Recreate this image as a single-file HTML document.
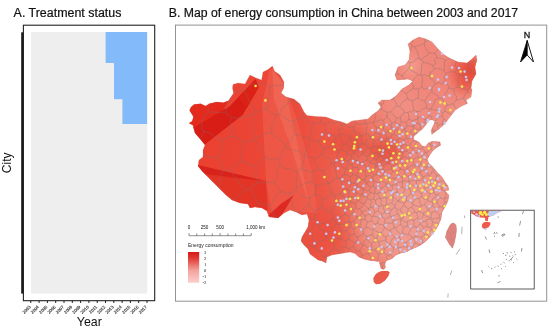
<!DOCTYPE html>
<html><head><meta charset="utf-8"><title>Figure</title>
<style>
html,body{margin:0;padding:0;background:#fff;}
body{width:550px;height:330px;overflow:hidden;}
svg{display:block;}
text{font-family:"Liberation Sans",Arial,sans-serif;fill:#111;}
.ser{font-family:"Liberation Serif","Times New Roman",serif;}
</style></head><body>
<svg width="550" height="330" viewBox="0 0 550 330">
<defs>
<clipPath id="cn"><path d="M190.9,107.2 L194.0,104.6 L200.5,103.7 L205.5,106.0 L210.0,103.4 L217.0,102.0 L223.4,102.7 L228.5,100.8 L231.0,97.0 L233.5,93.2 L232.5,88.0 L233.0,84.4 L238.0,83.0 L245.0,84.0 L250.0,75.0 L256.0,78.0 L261.6,80.0 L263.0,72.0 L268.0,69.6 L272.4,66.0 L274.4,71.0 L280.0,75.0 L284.0,82.0 L283.6,88.0 L281.0,93.0 L286.0,97.0 L294.0,99.0 L300.0,104.0 L304.0,112.0 L307.0,115.6 L316.0,116.4 L326.0,117.0 L334.0,120.0 L342.0,122.0 L347.0,124.0 L352.0,121.0 L360.0,120.0 L368.0,119.0 L372.0,115.0 L378.0,111.0 L381.0,107.0 L378.0,103.0 L382.0,100.0 L390.0,100.0 L396.0,96.0 L402.0,89.0 L409.0,85.0 L413.0,81.0 L408.0,79.0 L397.0,80.0 L395.0,75.0 L398.0,67.0 L405.0,65.0 L409.0,60.0 L410.0,51.0 L408.0,44.0 L413.0,40.0 L419.0,37.0 L426.0,39.0 L432.0,42.0 L438.0,49.0 L443.0,54.0 L449.0,58.0 L458.0,62.0 L467.0,63.0 L472.0,59.0 L476.0,55.0 L477.0,60.0 L475.0,67.0 L476.0,74.0 L472.0,81.0 L471.0,88.0 L472.0,90.0 L471.0,97.0 L466.2,100.0 L467.5,103.5 L462.4,105.7 L456.0,109.5 L452.2,114.0 L448.4,119.0 L444.5,124.2 L439.5,128.6 L434.4,132.5 L431.8,134.4 L431.2,130.0 L433.7,124.8 L435.0,121.0 L431.8,119.7 L428.6,120.4 L426.0,124.8 L423.0,128.6 L419.0,131.8 L414.0,136.3 L413.6,139.5 L419.0,142.0 L422.3,146.0 L425.5,146.5 L428.6,142.7 L431.8,141.5 L436.3,141.5 L440.0,142.0 L440.7,145.3 L437.0,147.2 L433.0,150.4 L430.0,154.8 L427.4,159.3 L428.6,163.0 L432.0,166.0 L437.0,172.0 L442.0,177.0 L445.0,182.0 L448.0,186.0 L449.0,190.0 L445.0,191.0 L449.0,195.0 L448.0,201.0 L445.0,207.0 L442.0,212.0 L441.0,219.0 L438.0,226.0 L434.0,232.0 L430.0,237.0 L425.0,242.0 L419.0,246.0 L412.0,249.0 L406.0,252.0 L401.0,253.0 L396.0,255.0 L391.9,258.8 L386.2,260.7 L384.9,263.9 L385.5,267.7 L383.6,269.6 L381.0,268.4 L379.8,264.5 L379.2,261.4 L371.5,260.7 L365.2,259.5 L358.8,257.0 L355.0,253.5 L350.0,252.0 L344.0,253.0 L338.0,254.0 L332.0,255.0 L327.0,257.0 L326.0,263.0 L322.0,261.0 L318.0,260.0 L314.0,257.0 L310.0,254.0 L308.0,249.0 L304.0,245.0 L301.0,241.0 L302.0,237.0 L305.0,232.0 L308.0,227.0 L309.0,220.0 L307.0,214.0 L302.0,215.0 L296.0,212.0 L290.0,210.0 L284.0,213.0 L278.0,218.0 L269.0,217.0 L267.0,211.0 L262.0,208.0 L255.0,207.0 L250.0,208.0 L248.0,204.0 L240.0,203.0 L232.0,200.0 L226.0,195.0 L220.0,189.0 L211.0,180.0 L207.0,176.0 L202.0,171.0 L198.0,166.0 L199.0,160.0 L203.0,157.0 L203.0,150.0 L205.0,145.0 L201.0,140.0 L195.0,133.0 L194.0,129.5 L192.8,125.0 L189.0,123.3 L192.2,121.2 L193.5,116.7 L191.5,113.5 L189.6,110.4Z"/><path d="M453.9,223.1 L456.0,225.2 L456.4,230.0 L456.0,234.2 L454.6,241.8 L452.5,248.2 L449.4,244.2 L445.5,237.3 L446.9,231.2 L450.0,225.2 L451.7,223.4Z"/><path d="M382.4,270.9 L387.5,270.9 L389.6,272.2 L388.3,276.0 L384.9,280.5 L380.5,283.6 L376.0,284.3 L373.8,281.7 L373.5,277.9 L376.0,274.1 L379.2,271.9Z"/></clipPath>
<clipPath id="cnm"><path d="M190.9,107.2 L194.0,104.6 L200.5,103.7 L205.5,106.0 L210.0,103.4 L217.0,102.0 L223.4,102.7 L228.5,100.8 L231.0,97.0 L233.5,93.2 L232.5,88.0 L233.0,84.4 L238.0,83.0 L245.0,84.0 L250.0,75.0 L256.0,78.0 L261.6,80.0 L263.0,72.0 L268.0,69.6 L272.4,66.0 L274.4,71.0 L280.0,75.0 L284.0,82.0 L283.6,88.0 L281.0,93.0 L286.0,97.0 L294.0,99.0 L300.0,104.0 L304.0,112.0 L307.0,115.6 L316.0,116.4 L326.0,117.0 L334.0,120.0 L342.0,122.0 L347.0,124.0 L352.0,121.0 L360.0,120.0 L368.0,119.0 L372.0,115.0 L378.0,111.0 L381.0,107.0 L378.0,103.0 L382.0,100.0 L390.0,100.0 L396.0,96.0 L402.0,89.0 L409.0,85.0 L413.0,81.0 L408.0,79.0 L397.0,80.0 L395.0,75.0 L398.0,67.0 L405.0,65.0 L409.0,60.0 L410.0,51.0 L408.0,44.0 L413.0,40.0 L419.0,37.0 L426.0,39.0 L432.0,42.0 L438.0,49.0 L443.0,54.0 L449.0,58.0 L458.0,62.0 L467.0,63.0 L472.0,59.0 L476.0,55.0 L477.0,60.0 L475.0,67.0 L476.0,74.0 L472.0,81.0 L471.0,88.0 L472.0,90.0 L471.0,97.0 L466.2,100.0 L467.5,103.5 L462.4,105.7 L456.0,109.5 L452.2,114.0 L448.4,119.0 L444.5,124.2 L439.5,128.6 L434.4,132.5 L431.8,134.4 L431.2,130.0 L433.7,124.8 L435.0,121.0 L431.8,119.7 L428.6,120.4 L426.0,124.8 L423.0,128.6 L419.0,131.8 L414.0,136.3 L413.6,139.5 L419.0,142.0 L422.3,146.0 L425.5,146.5 L428.6,142.7 L431.8,141.5 L436.3,141.5 L440.0,142.0 L440.7,145.3 L437.0,147.2 L433.0,150.4 L430.0,154.8 L427.4,159.3 L428.6,163.0 L432.0,166.0 L437.0,172.0 L442.0,177.0 L445.0,182.0 L448.0,186.0 L449.0,190.0 L445.0,191.0 L449.0,195.0 L448.0,201.0 L445.0,207.0 L442.0,212.0 L441.0,219.0 L438.0,226.0 L434.0,232.0 L430.0,237.0 L425.0,242.0 L419.0,246.0 L412.0,249.0 L406.0,252.0 L401.0,253.0 L396.0,255.0 L391.9,258.8 L386.2,260.7 L384.9,263.9 L385.5,267.7 L383.6,269.6 L381.0,268.4 L379.8,264.5 L379.2,261.4 L371.5,260.7 L365.2,259.5 L358.8,257.0 L355.0,253.5 L350.0,252.0 L344.0,253.0 L338.0,254.0 L332.0,255.0 L327.0,257.0 L326.0,263.0 L322.0,261.0 L318.0,260.0 L314.0,257.0 L310.0,254.0 L308.0,249.0 L304.0,245.0 L301.0,241.0 L302.0,237.0 L305.0,232.0 L308.0,227.0 L309.0,220.0 L307.0,214.0 L302.0,215.0 L296.0,212.0 L290.0,210.0 L284.0,213.0 L278.0,218.0 L269.0,217.0 L267.0,211.0 L262.0,208.0 L255.0,207.0 L250.0,208.0 L248.0,204.0 L240.0,203.0 L232.0,200.0 L226.0,195.0 L220.0,189.0 L211.0,180.0 L207.0,176.0 L202.0,171.0 L198.0,166.0 L199.0,160.0 L203.0,157.0 L203.0,150.0 L205.0,145.0 L201.0,140.0 L195.0,133.0 L194.0,129.5 L192.8,125.0 L189.0,123.3 L192.2,121.2 L193.5,116.7 L191.5,113.5 L189.6,110.4Z"/></clipPath>
<linearGradient id="base" gradientUnits="userSpaceOnUse" x1="190" y1="0" x2="480" y2="0">
<stop offset="0" stop-color="#ea4030"/><stop offset="0.345" stop-color="#ec4838"/><stop offset="0.45" stop-color="#ed5746"/><stop offset="0.535" stop-color="#ee6756"/><stop offset="0.62" stop-color="#ef7665"/><stop offset="0.725" stop-color="#f08375"/><stop offset="0.86" stop-color="#f18d80"/><stop offset="1" stop-color="#f29488"/>
</linearGradient>
<linearGradient id="leg" x1="0" y1="0" x2="0" y2="1"><stop offset="0" stop-color="#d7191c"/><stop offset="0.18" stop-color="#e0352f"/><stop offset="0.6" stop-color="#f3a39d"/><stop offset="1" stop-color="#fccfcf"/></linearGradient>
<filter id="b6" x="-50%" y="-50%" width="200%" height="200%"><feGaussianBlur stdDeviation="6"/></filter>
<filter id="b10" x="-50%" y="-50%" width="200%" height="200%"><feGaussianBlur stdDeviation="10"/></filter>
<filter id="b1" x="-20%" y="-20%" width="140%" height="140%"><feGaussianBlur stdDeviation="0.6"/></filter>
</defs>
<rect width="550" height="330" fill="#fff"/>

<!-- Panel A -->
<text x="13.6" y="16.5" font-size="12.3" textLength="107.8" lengthAdjust="spacingAndGlyphs" stroke="#111" stroke-width="0.2">A. Treatment status</text>
<rect x="31.1" y="32" width="116.2" height="261.6" fill="#eeeeee"/>
<path d="M105.6,32H147.1V124.1H122.4V99.3H114V63H105.6Z" fill="#83bbfa"/>
<rect x="21.2" y="32.3" width="2.4" height="261.3" fill="#1a1a1a"/>
<rect x="23.4" y="25.2" width="131.3" height="275.5" fill="none" stroke="#222" stroke-width="1.1"/>
<g stroke="#222" stroke-width="1"><line x1="30.8" y1="300.7" x2="30.8" y2="303"/><line x1="39.1" y1="300.7" x2="39.1" y2="303"/><line x1="47.4" y1="300.7" x2="47.4" y2="303"/><line x1="55.7" y1="300.7" x2="55.7" y2="303"/><line x1="64.0" y1="300.7" x2="64.0" y2="303"/><line x1="72.3" y1="300.7" x2="72.3" y2="303"/><line x1="80.6" y1="300.7" x2="80.6" y2="303"/><line x1="88.9" y1="300.7" x2="88.9" y2="303"/><line x1="97.2" y1="300.7" x2="97.2" y2="303"/><line x1="105.5" y1="300.7" x2="105.5" y2="303"/><line x1="113.8" y1="300.7" x2="113.8" y2="303"/><line x1="122.1" y1="300.7" x2="122.1" y2="303"/><line x1="130.4" y1="300.7" x2="130.4" y2="303"/><line x1="138.7" y1="300.7" x2="138.7" y2="303"/><line x1="147.0" y1="300.7" x2="147.0" y2="303"/></g>
<g font-size="4.3" style="fill:#333" stroke="#333" stroke-width="0.12"><text transform="translate(31.0,307.3) rotate(-45)" text-anchor="end">2003</text><text transform="translate(39.3,307.3) rotate(-45)" text-anchor="end">2004</text><text transform="translate(47.6,307.3) rotate(-45)" text-anchor="end">2005</text><text transform="translate(55.9,307.3) rotate(-45)" text-anchor="end">2006</text><text transform="translate(64.2,307.3) rotate(-45)" text-anchor="end">2007</text><text transform="translate(72.5,307.3) rotate(-45)" text-anchor="end">2008</text><text transform="translate(80.8,307.3) rotate(-45)" text-anchor="end">2009</text><text transform="translate(89.1,307.3) rotate(-45)" text-anchor="end">2010</text><text transform="translate(97.4,307.3) rotate(-45)" text-anchor="end">2011</text><text transform="translate(105.7,307.3) rotate(-45)" text-anchor="end">2012</text><text transform="translate(114.0,307.3) rotate(-45)" text-anchor="end">2013</text><text transform="translate(122.3,307.3) rotate(-45)" text-anchor="end">2014</text><text transform="translate(130.6,307.3) rotate(-45)" text-anchor="end">2015</text><text transform="translate(138.9,307.3) rotate(-45)" text-anchor="end">2016</text><text transform="translate(147.2,307.3) rotate(-45)" text-anchor="end">2017</text></g>
<text x="89.3" y="326.4" font-size="12.4" text-anchor="middle">Year</text>
<text transform="translate(11.4,162.8) rotate(-90)" font-size="12" text-anchor="middle">City</text>

<!-- Panel B -->
<text x="168.8" y="16.5" font-size="12.3" textLength="349.3" lengthAdjust="spacingAndGlyphs" stroke="#111" stroke-width="0.2">B. Map of energy consumption in China between 2003 and 2017</text>
<rect x="175.5" y="25.1" width="371.2" height="276.1" fill="#fff" stroke="#939393" stroke-width="1"/>

<g clip-path="url(#cn)">
<rect x="180" y="30" width="300" height="260" fill="url(#base)"/>
<!-- blobs -->
<g filter="url(#b10)">
<ellipse cx="430" cy="75" rx="34" ry="34" fill="#f08579" opacity="0.9"/>
<ellipse cx="398" cy="106" rx="24" ry="13" fill="#f29488" opacity="0.85"/>
<ellipse cx="405" cy="222" rx="48" ry="42" fill="#f19b8f" opacity="0.9"/>
<ellipse cx="440" cy="160" rx="16" ry="30" fill="#f1968a" opacity="0.7"/>
<ellipse cx="324" cy="232" rx="24" ry="24" fill="#ea503e" opacity="0.85"/>
</g>
<g filter="url(#b6)">
<ellipse cx="385" cy="151" rx="17" ry="13" fill="#e64433" opacity="0.72"/>
<ellipse cx="347" cy="142" rx="22" ry="15" fill="#ea4f3d" opacity="0.75"/>
<ellipse cx="467" cy="74" rx="15" ry="19" fill="#e84d3c" opacity="0.8"/><ellipse cx="474" cy="70" rx="8" ry="13" fill="#e43f2d" opacity="0.8"/>
<ellipse cx="410" cy="66" rx="9" ry="9" fill="#f5a59a" opacity="0.8"/>
</g>
<!-- facets west -->
<g filter="url(#b1)">
<path d="M180,95 L232,95 L201,148 L180,150Z" fill="#e32b1f"/>
<path d="M193,128 L229.5,106.5 L255.6,79 L258.5,87.6 L242.5,115 L204.7,144.5 L201.8,147.5Z" fill="#d81a12"/>
<path d="M238,98 L255.6,79 L258.5,87.6 L247,108Z" fill="#dc2118"/>
<path d="M196,164.5 L266,181 L196,175Z" fill="#d9231a"/>
<path d="M196,173 L266,181 L268,217 L225,200 L196,178Z" fill="#e13226" opacity="0.85"/>
<path d="M262,104 L270,68 L284,82 L297,120 L313,175 L317,213 L296,212 L284,213 L272,217 L266,181Z" fill="#f06c5a" opacity="0.42"/>
<path d="M272,68 L284,84 L299,150 L309,205 L292,150 L274,100Z" fill="#f27866" opacity="0.4"/>
<path d="M267.5,216 L279.5,219 L293.5,195.5 L282,203Z" fill="#dc2b20"/>
</g>
</g>
<g clip-path="url(#cnm)"><path d="M257.7,203.3L261.6,203.4L265.5,205.4L270.5,205.0M270.5,205.0L272.7,211.8L276.8,219.1L279.6,226.8M451.7,31.7L450.6,32.8L450.7,34.7L450.2,35.2M461.5,58.9L459.1,60.0L458.2,62.1L456.2,62.2M456.2,62.2L454.4,59.9L451.4,59.1L448.5,58.2M450.2,35.2L449.3,42.2L448.1,50.2L448.5,58.2M378.5,79.5L384.7,82.7L391.1,85.5L398.9,89.8M378.5,79.5L385.7,78.6L391.2,75.7L398.1,73.8M398.1,73.8L399.3,74.2L400.8,75.6L402.1,75.5M399.0,89.8L399.7,87.0L403.7,84.4L403.9,79.6M399.0,89.8L399.0,89.8L398.9,89.8L398.9,89.8M402.1,75.5L402.3,76.2L403.8,78.7L403.9,79.6M333.0,38.7L333.2,31.7L332.7,29.1L332.2,22.4M333.0,38.7L334.1,45.0L337.4,55.6L340.3,62.3M395.4,56.4L397.1,61.3L396.3,67.5L398.1,73.8M378.2,79.5L364.2,72.6L354.0,69.1L340.3,62.3M378.2,79.5L378.2,79.5L378.4,79.6L378.5,79.5M410.8,81.1L412.5,83.2L413.1,84.9L413.8,88.4M410.8,81.1L407.9,80.8L405.6,79.0L403.9,79.6M399.0,89.8L401.0,90.8L403.1,91.6L406.2,93.8M406.2,93.8L407.2,92.6L411.6,89.4L413.8,88.4M461.5,58.9L462.6,59.8L465.8,62.4L468.1,64.2M468.1,64.2L469.1,63.9L471.5,62.9L474.8,60.8M480.9,65.6L479.6,62.7L478.0,63.0L474.8,60.8M316.6,210.3L313.7,209.8L310.5,206.9L309.4,204.8M316.6,210.3L314.3,213.1L315.3,217.4L314.5,218.8M309.4,204.8L305.1,207.4L299.7,211.7L294.6,213.6M294.6,213.6L293.5,215.8L294.6,217.3L293.5,218.5M293.5,218.5L301.2,218.9L306.9,218.7L314.5,218.8M270.5,205.0L273.2,201.1L276.1,195.7L280.8,191.9M279.6,226.8L284.4,226.7L285.8,222.8L290.6,222.5M294.6,213.6L294.0,207.8L290.1,198.5L289.9,193.3M290.6,222.5L291.9,221.3L293.4,219.9L293.5,218.5M280.8,191.9L285.3,192.1L286.7,192.7L289.9,193.3M309.4,204.8L308.6,202.7L309.4,199.1L309.1,197.7M309.1,197.7L303.1,196.5L299.0,193.3L295.6,189.7M295.6,189.7L293.6,191.8L291.5,192.5L289.9,193.3M289.2,85.7L281.4,85.0L275.5,85.6L269.0,86.7M289.2,85.7L290.5,91.5L290.4,95.4L289.6,99.2M269.0,86.7L269.7,94.6L267.4,103.3L267.6,109.6M267.6,109.6L270.7,112.6L275.0,114.0L276.4,114.5M276.4,114.5L277.5,114.7L278.0,114.6L279.7,113.9M289.6,99.2L287.6,104.2L282.1,108.2L279.7,113.9M294.1,134.7L299.9,135.6L303.4,137.0L309.1,138.1M294.1,134.7L292.1,138.7L289.2,141.6L284.7,145.6M284.7,147.7L284.7,146.7L284.6,146.0L284.7,145.6M284.7,147.7L290.6,149.2L299.2,151.6L304.2,155.2M304.2,155.2L304.3,155.2L304.3,155.2L304.4,155.1M304.4,155.1L306.2,148.4L309.0,145.9L310.2,139.4M310.2,139.4L309.8,138.7L309.7,138.7L309.1,138.1M276.4,114.5L274.3,121.2L271.9,125.8L271.9,133.0M271.9,133.0L274.6,136.1L281.8,140.9L284.7,145.6M279.7,113.9L284.6,117.7L288.4,120.1L293.1,121.8M293.1,121.8L292.0,125.8L294.4,130.8L294.1,134.7M201.0,122.5L202.1,125.5L201.8,129.7L204.0,131.1M204.0,131.1L201.5,137.1L196.4,144.3L194.4,152.9M218.9,213.7L220.8,201.1L219.3,188.1L220.5,173.9M265.5,83.6L266.0,84.2L268.3,85.9L269.0,86.7M265.5,83.6L259.8,83.1L256.2,84.8L251.9,84.0M251.9,84.0L248.8,86.7L246.4,87.8L244.9,91.3M267.6,109.6L263.7,109.0L259.2,112.0L255.8,111.6M244.9,91.3L247.4,96.4L251.4,105.1L255.8,111.6M434.9,53.2L440.4,46.3L446.2,41.2L450.2,35.2M434.9,53.2L435.2,54.1L436.4,56.3L436.6,57.8M448.5,58.2L448.1,58.8L446.9,59.4L445.3,60.4M436.6,57.8L438.0,57.9L440.9,58.2L445.3,60.4M410.8,81.1L413.0,80.6L416.0,76.4L418.4,74.8M421.3,75.4L421.2,75.1L420.7,75.0L420.7,74.9M421.3,75.4L422.7,78.5L421.7,84.3L422.3,87.5M422.3,87.5L420.9,87.7L419.1,88.8L418.4,89.7M418.4,89.7L417.2,88.5L415.4,89.3L413.8,88.4M418.4,74.8L419.4,74.8L420.3,74.9L420.7,74.9M402.1,75.5L405.7,71.5L408.1,69.4L409.7,67.0M418.4,74.8L416.3,73.0L411.0,70.5L409.7,67.0M378.2,79.5L381.3,84.8L382.7,90.6L386.2,98.3M398.9,89.8L396.9,91.9L396.6,94.6L393.5,99.2M393.5,99.2L390.9,99.6L389.0,97.3L386.2,98.3M340.3,62.3L339.1,66.1L340.1,69.9L340.3,71.2M340.3,71.2L342.0,74.9L342.9,77.1L344.3,80.8M349.3,86.0L347.1,83.3L345.6,82.8L344.3,80.8M349.3,86.0L359.1,92.4L371.4,99.4L381.5,104.2M386.2,98.3L383.8,100.1L383.7,103.5L381.5,104.2M375.0,112.5L378.0,111.3L379.5,109.3L382.0,109.4M375.0,112.5L370.2,110.5L367.0,110.1L364.2,107.1M364.2,107.1L357.8,100.9L352.7,93.9L349.3,86.0M382.0,109.4L381.4,107.6L381.8,105.9L381.5,104.2M406.2,93.8L407.0,95.8L407.6,96.5L407.8,98.8M418.7,98.2L415.5,98.5L414.8,99.8L412.4,101.2M418.7,98.2L418.1,96.7L418.4,93.7L418.4,89.7M407.8,98.8L409.6,100.3L411.7,100.0L412.4,101.2M433.1,65.6L433.0,66.5L433.8,67.4L434.3,68.6M433.1,65.6L435.6,63.7L434.4,59.6L436.6,57.8M445.3,60.4L444.4,62.7L444.3,68.3L444.1,71.2M444.1,71.2L441.3,69.3L436.0,68.3L434.3,68.6M421.3,75.4L425.0,74.6L427.8,76.3L429.6,75.4M433.1,65.6L429.3,63.8L426.0,62.8L423.3,62.3M420.7,74.9L421.7,69.2L421.6,66.0L423.3,62.3M429.6,75.4L430.6,72.0L431.7,72.1L434.3,68.6M418.7,98.2L421.0,100.3L422.8,99.9L424.5,101.5M416.6,111.5L415.5,111.0L414.5,110.6L413.6,110.4M416.6,111.5L420.1,111.3L422.4,109.1L426.5,107.7M412.4,101.2L412.7,105.5L413.9,109.0L413.6,110.4M424.5,101.5L425.4,102.5L426.5,104.7L426.5,107.7M312.5,246.5L313.8,246.6L314.6,246.0L315.1,245.4M312.5,246.5L308.2,245.4L304.1,245.0L301.6,243.9M301.6,243.9L302.4,241.1L302.0,236.6L300.6,231.2M316.2,243.1L312.7,238.8L313.2,236.3L309.6,232.0M316.2,243.1L316.3,243.7L315.6,244.6L315.1,245.4M300.6,231.2L304.1,232.1L305.3,230.7L309.6,232.0M323.2,256.7L321.2,252.0L316.4,250.7L315.1,245.4M323.2,256.7L310.1,273.5L298.8,289.0L284.8,303.1M290.6,222.5L294.8,226.7L297.6,228.6L300.6,231.2M325.9,237.5L325.9,237.4L325.9,237.4L325.9,237.3M325.9,237.5L323.9,240.6L320.4,240.4L316.2,243.1M317.1,223.2L313.7,225.9L312.1,228.6L309.6,232.0M317.1,223.2L317.4,223.4L317.6,223.5L318.0,223.6M318.0,223.6L319.9,228.8L324.9,232.4L325.9,237.3M314.5,218.8L315.8,221.0L316.1,221.0L317.1,223.2M325.9,237.5L327.3,238.1L332.2,242.2L333.2,242.6M323.2,256.7L323.6,256.6L323.9,256.6L324.3,256.7M324.3,256.7L328.0,253.8L331.9,251.0L334.4,247.7M333.2,242.6L334.4,244.2L334.1,245.6L334.4,247.7M296.5,187.8L296.0,182.4L297.3,177.1L296.3,171.6M296.5,187.8L301.1,185.4L306.4,182.7L312.1,182.2M312.1,182.2L312.1,179.6L312.2,176.9L312.1,172.7M312.1,172.7L306.9,170.5L304.1,169.9L300.5,169.0M300.5,169.0L298.7,170.2L296.9,171.6L296.3,171.6M280.8,191.9L278.9,188.7L277.6,185.6L274.2,182.7M295.6,189.7L295.9,189.3L296.2,188.8L296.5,187.8M279.9,164.8L276.8,171.4L277.3,176.3L274.2,182.7M279.9,164.8L285.4,168.4L290.6,169.2L296.3,171.6M309.1,197.7L310.2,197.8L313.8,194.5L315.2,194.4M315.2,194.4L316.0,190.7L315.8,188.4L317.0,185.9M317.0,185.9L316.4,185.4L313.4,184.1L312.1,182.2M315.2,158.1L310.1,156.9L307.3,157.6L304.4,155.1M315.2,158.1L314.5,162.7L318.1,166.7L317.1,169.5M317.1,169.5L315.6,170.5L313.2,170.9L312.1,172.7M304.2,155.2L304.0,159.7L302.9,163.3L300.5,169.0M279.9,164.8L279.6,164.0L278.9,161.2L277.6,159.0M277.6,159.0L281.2,156.2L282.3,151.7L284.7,147.7M204.0,131.1L212.0,134.3L217.2,137.9L223.7,140.3M194.4,152.9L201.2,153.1L210.1,157.4L217.7,157.5M223.7,140.3L221.5,146.6L220.3,152.0L217.7,157.5M220.5,173.9L220.9,173.5L223.2,172.0L224.0,170.0M217.7,157.5L218.5,160.2L221.8,164.4L224.0,170.0M302.5,117.4L303.3,112.3L305.2,111.5L305.5,106.5M302.5,117.4L306.5,117.8L307.7,121.2L312.1,123.3M321.1,120.9L321.4,111.3L325.7,102.4L326.4,91.8M321.1,120.9L319.5,122.9L315.3,123.4L312.1,123.3M326.4,91.8L320.0,98.0L313.4,102.3L305.5,106.5M289.6,99.2L296.2,103.1L301.5,104.1L305.5,106.5M293.1,121.8L296.6,119.3L298.3,119.6L302.5,117.4M309.1,138.1L311.2,134.7L312.2,127.9L312.1,123.3M324.8,124.7L323.6,122.6L321.8,122.0L321.1,120.9M324.8,124.7L329.5,122.3L334.1,123.6L339.6,121.3M340.3,71.2L336.7,79.6L330.5,83.8L326.4,91.8M344.3,80.8L344.1,84.3L345.4,87.6L344.6,89.5M344.6,89.5L344.1,100.8L340.2,110.1L339.6,121.3M324.8,124.7L325.9,127.4L324.8,129.2L325.9,131.5M325.9,131.5L324.3,134.3L321.5,137.0L318.6,140.9M318.6,140.9L314.4,140.9L312.0,139.7L310.2,139.4M333.0,38.7L318.3,53.8L304.8,69.6L289.2,85.7M450.7,197.4L449.1,197.4L446.5,198.3L445.3,197.4M450.7,197.4L450.4,199.8L452.6,201.8L453.2,204.2M453.2,204.2L449.8,205.0L446.3,202.1L444.9,202.1M444.9,202.1L444.2,200.4L444.9,199.5L444.1,198.5M444.1,198.5L444.3,198.1L444.9,197.9L445.3,197.4M461.5,212.1L454.4,210.0L449.8,210.4L443.1,207.6M461.5,212.1L458.9,208.6L456.7,207.9L453.2,204.2M442.6,206.9L442.8,207.2L442.8,207.3L443.1,207.6M442.6,206.9L443.7,204.6L444.8,202.9L444.9,202.1M446.0,192.2L444.2,190.8L442.6,190.4L442.1,189.1M446.0,192.2L446.7,191.1L448.0,191.1L450.1,190.7M446.0,185.3L447.4,185.8L448.6,185.4L449.8,186.0M446.0,185.3L443.8,186.8L442.7,187.6L442.0,188.3M442.0,188.3L442.1,188.4L442.2,188.8L442.1,189.1M449.8,186.0L449.9,186.3L450.9,187.8L451.6,188.3M451.6,188.3L451.1,188.8L450.4,189.9L450.1,190.7M451.9,195.8L452.0,194.4L450.1,191.6L450.1,190.7M451.9,195.8L451.5,196.0L451.3,196.6L450.7,197.4M445.3,197.4L446.1,195.1L445.3,194.0L446.0,192.2M438.5,185.1L438.7,184.3L438.2,183.0L438.1,182.5M438.5,185.1L439.1,186.5L441.2,186.8L442.0,188.3M438.1,182.5L441.4,181.1L442.0,181.2L444.4,179.1M444.4,179.1L444.1,182.1L445.4,183.2L446.0,185.3M437.7,194.8L438.6,196.2L438.8,197.3L440.1,197.5M437.7,194.8L437.4,194.5L436.5,194.5L435.7,194.5M435.7,194.5L435.7,197.7L432.9,198.2L431.7,201.5M440.1,197.5L439.5,198.2L437.3,201.1L437.4,202.5M437.4,202.5L436.1,202.0L434.1,202.9L432.6,202.6M431.7,201.5L432.1,201.8L432.4,202.0L432.6,202.6M444.1,198.5L442.4,198.6L442.1,198.6L440.1,197.5M442.1,189.1L440.0,190.8L439.1,193.4L437.7,194.8M433.2,189.4L433.8,189.1L436.0,187.4L438.5,185.1M433.2,189.4L433.1,190.8L433.8,191.3L433.5,192.5M433.5,192.5L434.7,193.4L434.5,193.4L435.7,194.5M442.6,206.9L442.2,206.9L440.7,206.8L440.3,206.6M440.3,206.6L438.6,205.6L437.6,203.9L437.4,202.5M414.8,22.9L412.8,29.7L413.8,38.3L411.0,44.0M332.2,22.4L331.7,21.5L331.6,20.3L331.5,19.1M451.7,31.7L442.9,34.4L434.8,39.7L425.1,41.3M434.9,53.2L432.1,53.0L430.5,53.1L428.9,52.2M425.1,41.3L424.7,41.9L424.6,42.5L424.4,42.9M428.9,52.2L427.2,50.2L424.6,46.2L424.4,42.9M423.3,62.3L423.1,61.3L421.6,60.6L421.5,59.3M428.9,52.2L427.6,55.4L422.5,57.9L421.5,59.3M418.0,117.6L418.0,117.7L417.9,117.8L417.9,117.9M418.0,117.6L420.5,117.1L423.8,119.6L425.3,119.5M417.9,117.9L417.8,120.7L417.9,122.4L418.7,123.7M425.3,119.5L425.2,120.7L425.5,121.8L424.9,122.6M424.9,122.6L423.7,122.7L421.6,124.2L420.3,124.6M418.7,123.7L419.4,124.2L420.1,124.1L420.3,124.6M416.6,111.5L417.0,113.2L417.0,114.6L418.0,117.6M413.6,110.4L411.1,112.3L409.6,111.0L408.0,112.9M412.7,121.2L411.8,120.1L409.2,119.8L408.8,118.4M412.7,121.2L414.3,119.9L416.9,119.4L417.9,117.9M408.0,112.9L408.5,114.5L408.7,116.7L408.8,118.4M383.2,120.3L384.9,118.8L386.5,117.2L386.7,115.4M383.2,120.3L384.1,122.1L383.5,124.5L384.6,125.5M384.6,125.5L386.1,125.6L389.6,124.7L391.0,125.7M391.0,125.7L391.1,124.8L392.0,124.0L391.9,123.4M391.9,123.4L389.8,120.1L388.6,118.9L386.7,115.4M375.0,112.5L375.3,115.8L375.1,119.4L373.9,122.0M373.9,122.0L375.7,121.8L380.5,119.7L383.2,120.3M382.0,109.4L384.2,111.5L386.1,111.4L387.0,113.0M386.7,115.4L387.2,114.4L386.9,114.2L387.0,113.0M479.2,82.3L477.7,82.8L475.0,83.4L471.3,85.2M479.2,82.3L478.4,79.5L476.4,76.2L475.7,73.4M471.3,85.2L467.4,80.9L466.0,79.6L462.2,75.2M475.7,73.4L472.7,71.6L469.5,72.3L467.4,70.8M467.4,70.8L465.6,73.5L464.5,74.4L462.2,75.2M480.9,65.6L479.4,69.1L477.5,71.6L475.7,73.4M468.1,64.2L468.3,66.8L467.9,68.5L467.4,70.8M456.2,62.2L455.1,65.2L456.9,68.5L455.0,72.2M444.1,71.2L444.7,72.5L445.7,72.9L446.1,73.6M446.1,73.6L448.0,72.4L451.2,71.5L455.0,72.2M462.2,75.2L461.2,75.2L461.0,75.2L459.9,75.4M455.0,72.2L456.3,73.5L458.1,74.3L459.9,75.4M429.6,75.4L430.3,78.9L433.1,79.9L435.3,84.2M446.1,73.6L444.1,77.6L445.2,80.5L443.2,82.2M443.2,82.2L441.5,84.2L438.9,82.4L435.3,84.2M422.3,87.5L424.2,89.3L428.1,87.7L431.7,89.8M435.3,84.2L434.8,85.1L432.5,86.9L431.7,89.8M424.5,101.5L426.9,97.3L428.7,95.1L432.0,91.1M431.7,89.8L431.9,90.3L432.0,90.7L432.0,91.1M324.3,256.7L327.7,258.8L332.4,263.8L337.6,268.1M342.5,280.1L340.0,276.5L340.6,272.5L337.6,268.1M348.4,248.5L349.5,250.7L348.0,253.4L349.0,254.7M348.4,248.5L347.9,247.6L347.2,247.6L345.9,246.9M345.9,246.9L342.1,247.2L341.9,249.6L337.6,250.2M349.0,254.7L345.7,254.4L343.9,253.6L339.2,253.9M337.6,250.2L338.6,251.7L338.5,252.1L339.2,253.9M333.2,242.6L334.2,240.6L336.5,238.6L339.6,238.6M334.4,247.7L335.3,247.8L336.6,249.5L337.6,250.2M339.6,238.6L341.5,239.1L343.6,240.1L345.9,240.6M345.9,240.6L345.7,242.9L346.1,245.9L345.9,246.9M350.6,256.4L349.9,255.5L349.1,255.2L349.0,254.7M350.6,256.4L347.3,263.8L346.5,271.6L342.5,280.1M337.6,268.1L336.8,264.8L337.9,257.6L339.2,253.9M231.0,136.5L235.9,137.1L240.5,140.3L244.1,142.7M231.0,136.5L232.6,131.5L230.1,123.4L231.3,117.6M252.5,115.2L247.0,115.3L238.5,118.4L231.3,117.6M252.5,115.2L251.9,122.1L252.8,130.7L255.0,138.0M244.1,142.7L246.8,140.9L250.2,141.4L253.8,139.7M255.0,138.0L254.4,138.6L254.0,138.9L253.8,139.7M244.9,91.3L239.8,90.2L237.2,92.4L232.5,92.4M255.8,111.6L255.2,113.5L252.8,113.7L252.5,115.2M232.5,92.4L230.3,99.6L227.6,104.9L226.2,111.9M226.2,111.9L226.9,114.7L228.8,115.0L231.3,117.6M271.9,133.0L265.4,133.4L260.6,136.6L255.0,138.0M277.6,159.0L274.0,159.9L271.3,159.8L266.7,157.9M266.7,157.9L261.8,151.4L259.5,145.0L253.8,139.7M345.9,240.6L346.6,239.9L347.2,240.0L348.1,239.6M348.1,239.6L349.5,239.5L352.5,241.0L354.1,243.1M348.4,248.5L349.2,248.6L351.2,247.9L353.3,246.3M353.3,246.3L353.9,245.3L353.8,244.6L354.1,243.1M318.6,140.9L319.5,143.8L321.1,146.6L323.8,148.1M315.2,158.1L317.2,157.6L321.0,154.7L322.7,153.2M322.7,153.2L322.2,151.1L323.2,149.5L323.8,148.1M317.1,169.5L318.4,169.4L320.3,169.6L322.1,170.7M317.0,185.9L321.1,183.9L323.8,184.2L328.2,183.1M322.1,170.7L324.6,176.1L325.5,179.1L328.2,183.1M322.7,153.2L324.4,156.9L329.8,158.3L331.8,163.1M322.1,170.7L326.3,168.4L329.7,165.1L331.8,163.1M204.1,115.2L206.3,115.0L207.1,114.1L208.1,112.4M208.1,112.4L207.6,95.7L206.8,79.2L206.9,64.3M201.0,122.5L203.5,120.2L203.5,116.7L204.1,115.2M223.7,140.3L225.5,139.1L228.8,137.1L231.0,136.5M226.2,111.9L219.4,112.6L213.9,111.9L208.1,112.4M232.5,92.4L224.5,82.6L216.7,74.7L206.9,64.3M425.1,41.3L422.7,36.3L417.8,27.9L414.8,22.9M419.4,253.2L420.3,251.3L418.7,247.4L420.4,244.7M419.4,253.2L415.6,252.4L414.1,250.2L412.0,248.1M412.0,248.1L412.9,246.7L413.3,244.5L415.2,243.4M415.2,243.4L417.2,243.4L418.0,244.5L420.4,244.7M425.2,243.9L424.5,243.5L423.8,243.7L422.5,243.3M420.4,244.7L421.3,244.6L421.8,243.9L422.5,243.3M381.9,263.7L382.6,262.2L385.3,262.9L386.3,261.5M381.9,263.7L379.9,263.6L378.1,262.3L377.4,261.4M386.3,261.5L387.5,259.5L386.1,257.6L387.6,255.6M387.6,255.6L386.1,254.0L384.5,253.6L384.1,252.8M384.1,252.8L382.6,252.9L380.5,253.2L378.7,254.3M378.7,254.3L378.5,255.8L377.8,258.0L377.4,261.4M365.2,261.7L360.5,271.1L359.8,280.1L354.8,289.1M365.2,261.7L366.9,260.7L369.8,261.0L371.2,260.1M367.8,278.1L368.5,273.4L372.9,266.4L374.0,262.1M367.8,278.1L361.5,284.7L358.7,291.5L352.4,298.9M371.2,260.1L372.1,261.0L373.5,261.7L374.0,262.1M382.1,268.5L382.3,267.0L382.3,265.3L381.9,263.7M382.1,268.5L377.2,272.5L372.1,274.7L367.8,278.1M377.4,261.4L375.9,262.0L375.6,261.5L374.0,262.1M408.1,250.5L407.5,251.5L404.1,253.3L403.2,254.8M403.2,254.8L406.2,265.5L408.8,277.2L412.3,287.8M412.3,287.8L417.1,296.5L421.2,303.0L425.9,311.3M412.0,248.1L410.9,248.6L409.6,249.2L408.3,249.0M408.3,249.0L408.1,249.4L408.0,249.8L408.1,250.5M382.1,268.5L396.7,282.2L410.4,297.4L425.9,311.3M386.3,261.5L389.4,264.4L394.3,264.5L398.0,268.0M398.0,268.0L402.4,273.6L408.3,280.8L412.3,287.8M393.4,247.6L395.5,247.3L396.4,247.0L397.6,247.8M393.4,247.6L393.6,249.9L391.2,252.6L390.5,254.4M399.5,253.7L399.7,252.5L398.7,249.7L397.7,247.8M399.5,253.7L399.2,254.6L397.2,256.9L396.0,257.7M397.6,247.8L397.7,247.8L397.7,247.8L397.7,247.8M390.5,254.4L391.5,256.2L393.6,257.5L396.0,257.7M387.6,255.6L388.7,255.3L389.4,254.8L390.5,254.4M389.9,244.0L390.9,244.6L392.2,246.8L393.4,247.6M389.9,244.0L389.9,244.0L389.8,244.0L389.8,244.0M384.1,252.8L383.9,251.3L384.8,249.4L384.2,248.2M384.2,248.2L387.0,247.5L388.5,245.1L389.8,244.0M408.3,249.0L408.0,248.4L407.0,247.7L406.9,247.4M406.9,247.4L405.3,246.6L402.1,247.1L397.7,247.8M403.2,254.8L402.1,253.8L401.3,253.8L399.5,253.7M398.0,268.0L396.9,265.6L398.2,262.7L396.0,257.7M440.3,206.6L438.8,207.3L438.3,208.2L436.3,209.2M432.6,202.6L432.7,203.9L433.1,205.3L432.5,205.8M436.3,209.2L434.5,207.3L434.0,206.7L432.5,205.8M436.3,209.2L436.4,210.1L436.2,211.1L435.7,211.6M435.7,211.6L433.7,211.6L432.2,212.5L431.6,213.8M432.5,205.8L431.5,206.8L430.5,207.5L428.3,209.6M431.6,213.8L430.0,211.5L429.6,211.1L428.3,209.6M461.5,212.1L467.2,215.8L472.8,220.1L480.3,223.7M443.1,207.6L443.2,208.8L442.7,210.9L442.6,213.5M435.7,211.6L436.8,212.4L438.5,213.9L439.9,215.1M442.6,213.5L441.2,213.9L440.4,214.3L439.9,215.1M480.3,223.7L473.5,221.9L466.3,220.1L457.4,220.1M442.6,213.5L447.1,214.9L453.6,218.8L457.4,220.1M412.3,46.2L412.7,46.6L413.8,46.7L414.9,47.0M412.3,46.2L410.5,50.5L406.1,52.1L402.5,57.2M414.9,47.0L417.6,52.2L418.4,55.6L419.4,58.7M419.4,58.7L416.2,58.6L413.5,61.9L409.5,62.8M402.5,57.2L404.4,60.2L408.3,61.3L409.5,62.8M411.0,44.0L411.2,45.1L412.1,45.8L412.3,46.2M424.4,42.9L420.2,45.2L417.1,45.9L414.9,47.0M395.4,56.4L398.2,56.9L400.4,57.8L402.5,57.2M421.5,59.3L420.7,59.2L420.1,58.9L419.4,58.7M409.7,67.0L409.7,65.3L410.1,63.8L409.5,62.8M448.7,88.2L448.1,85.1L445.4,83.3L443.2,82.2M448.7,88.2L446.2,92.9L444.9,94.4L442.3,98.7M432.0,91.1L433.4,93.3L437.9,95.6L438.8,98.3M442.3,98.7L441.5,98.2L440.1,98.4L438.8,98.3M444.4,179.1L444.4,179.1L444.4,179.1L444.4,179.1M449.8,186.0L451.5,184.3L449.7,181.5L451.6,178.9M444.4,179.1L447.9,178.3L449.5,178.8L451.6,178.9M435.5,180.4L437.0,181.6L437.1,181.8L438.1,182.5M435.5,180.4L435.7,179.1L436.2,178.0L436.5,176.3M444.4,179.1L444.4,178.5L443.9,176.9L443.5,176.1M443.5,176.1L442.9,175.9L442.3,175.5L441.2,174.3M436.5,176.3L437.4,175.9L439.1,175.2L441.2,174.3M459.9,75.4L457.3,80.2L459.0,83.6L456.4,87.2M448.7,88.2L451.0,88.0L451.7,89.0L453.6,89.0M453.6,89.0L454.7,88.6L455.2,88.1L456.4,87.2M471.3,85.2L470.3,88.0L468.9,87.8L468.0,90.6M456.4,87.2L459.2,87.6L463.6,88.6L468.0,90.6M468.0,90.6L468.0,91.1L468.3,91.7L468.2,92.1M468.2,92.1L465.7,93.5L464.1,96.9L463.9,98.9M481.4,125.7L476.1,117.2L469.2,108.7L463.9,98.9M453.6,89.0L454.1,93.5L456.5,96.6L456.4,99.9M456.4,99.9L459.9,99.6L462.6,97.9L463.9,98.9M406.2,122.1L405.3,121.8L403.6,122.1L401.9,121.7M406.2,122.1L406.9,124.1L407.0,124.8L407.6,126.0M404.8,129.4L405.4,128.7L406.0,126.5L407.6,126.0M404.8,129.4L403.8,128.0L400.8,125.8L399.8,124.8M399.8,124.8L400.0,123.3L401.3,122.2L401.9,121.7M412.7,121.2L412.1,123.5L413.4,124.6L413.1,126.1M413.1,126.1L410.8,126.7L409.7,125.9L407.6,126.0M408.8,118.4L408.4,119.5L407.8,120.4L406.2,122.1M404.4,112.0L402.7,114.9L401.6,115.1L400.6,117.3M404.4,112.0L402.7,109.1L401.8,109.0L399.8,106.6M390.5,111.9L392.2,113.6L394.7,116.4L396.7,117.8M390.5,111.9L393.1,109.4L395.5,106.9L396.8,106.0M400.6,117.3L399.1,118.0L397.9,117.9L396.7,117.8M396.8,106.0L397.3,106.0L398.5,106.7L399.8,106.6M408.0,112.9L407.0,112.3L406.2,112.8L404.4,112.0M401.9,121.7L400.8,120.7L400.5,118.5L400.6,117.3M407.8,98.8L404.0,100.8L401.0,104.0L399.8,106.6M391.9,123.4L393.4,123.0L393.9,122.4L395.0,122.2M395.0,122.2L394.7,121.4L395.9,119.9L396.7,117.8M387.0,113.0L388.3,112.2L389.4,111.9L390.5,111.9M393.5,99.2L395.0,101.7L396.6,102.6L396.8,106.0M399.7,124.8L399.7,124.8L399.8,124.8L399.8,124.8M399.7,124.8L397.9,124.9L396.9,123.0L395.0,122.2M339.6,238.6L340.8,235.2L340.6,233.1L341.4,229.7M348.1,239.6L349.3,238.1L348.3,237.3L349.7,235.1M341.4,229.7L342.4,229.5L343.9,230.8L346.0,230.5M349.7,235.1L349.1,234.0L347.6,232.3L346.0,230.5M255.7,166.8L251.0,164.7L246.6,162.3L241.5,161.7M255.7,166.8L256.2,170.6L255.7,176.9L257.5,182.4M257.5,182.4L254.3,185.2L252.0,186.0L250.1,189.7M229.0,170.4L231.6,169.0L236.8,164.5L241.5,161.7M229.0,170.4L234.0,175.3L239.4,183.8L245.1,189.5M250.1,189.7L249.3,189.3L246.2,189.5L245.1,189.5M266.7,157.9L261.6,159.5L258.0,164.3L255.7,166.8M244.1,142.7L241.9,149.0L241.4,154.2L241.5,161.7M274.2,182.7L268.4,182.1L264.5,183.0L257.5,182.4M257.7,203.3L255.5,197.9L254.1,195.4L250.1,189.7M224.0,170.0L225.5,170.3L227.2,170.4L229.0,170.4M218.9,213.7L227.2,204.5L236.4,197.2L245.1,189.5M365.2,261.7L365.1,260.8L362.0,257.5L361.7,256.9M354.8,289.1L354.7,278.6L357.5,268.4L358.2,258.9M361.7,256.9L360.1,257.7L359.8,257.8L358.2,258.9M350.6,256.4L350.8,256.2L351.5,256.2L351.6,256.2M353.3,246.3L354.8,247.4L355.1,249.0L356.5,250.7M356.5,250.7L354.5,253.1L353.2,254.9L351.6,256.2M351.6,256.2L354.7,257.6L356.5,259.0L358.2,258.9M399.7,124.8L397.8,125.5L398.3,128.6L396.2,129.7M404.7,130.0L404.8,129.8L404.8,129.6L404.8,129.4M404.7,130.0L403.6,130.0L401.4,131.0L400.7,132.2M400.7,132.2L399.0,131.7L397.2,131.3L396.2,129.7M431.7,201.5L429.8,201.7L428.3,200.9L427.7,200.5M428.3,209.6L428.3,209.6L428.3,209.6L428.3,209.6M428.3,209.6L427.3,208.5L426.3,206.4L424.5,204.8M424.5,204.8L425.6,202.6L425.7,202.6L427.7,200.5M433.5,192.5L432.7,192.7L430.6,193.6L429.6,193.8M429.6,193.8L429.8,194.6L428.0,198.4L427.2,199.4M427.7,200.5L427.4,200.0L427.5,199.6L427.2,199.4M325.9,131.5L330.0,134.4L332.9,135.2L336.2,136.3M323.8,148.1L326.4,148.1L328.2,147.0L332.7,145.9M332.7,145.9L335.0,143.6L335.3,138.9L336.2,136.3M331.8,163.1L332.8,163.0L332.8,163.5L333.8,163.3M328.2,183.1L328.3,183.1L328.4,183.2L328.6,183.3M328.6,183.3L332.3,181.5L333.8,179.0L337.2,178.1M333.8,163.3L335.6,169.7L336.2,174.1L337.2,178.1M415.2,243.4L414.8,241.3L414.7,240.4L413.0,237.7M421.4,237.5L421.4,238.8L422.8,240.4L422.5,243.3M421.4,237.5L420.4,236.7L417.8,236.8L415.1,236.5M415.1,236.5L414.4,236.6L413.8,237.6L413.0,237.7M425.2,243.9L426.2,241.9L427.7,241.5L430.5,240.7M421.4,237.5L422.9,236.4L422.5,235.6L424.2,234.7M424.2,234.7L424.9,235.0L425.8,234.6L426.4,234.9M426.4,234.9L428.6,235.8L429.1,238.2L430.5,240.7M440.0,241.9L438.1,242.4L432.4,241.3L430.5,240.7M424.2,234.7L424.1,233.8L422.6,231.2L422.2,230.7M415.1,236.5L416.9,234.5L415.8,233.4L417.3,230.2M422.2,230.7L421.2,231.1L418.2,230.8L417.3,230.2M378.7,254.3L378.2,253.2L376.2,251.8L375.0,250.5M384.2,248.2L382.3,247.9L380.9,245.9L379.6,245.7M375.0,250.5L375.5,248.7L378.1,247.3L379.6,245.7M385.9,239.7L384.3,240.4L381.8,240.9L379.1,241.9M385.9,239.7L386.4,241.9L387.9,243.1L389.8,244.0M379.6,245.7L379.1,244.2L379.0,243.1L379.1,241.9M440.0,241.9L439.7,237.5L436.7,233.3L435.1,231.3M439.4,226.1L438.4,228.8L436.2,228.8L435.1,231.3M426.4,234.9L428.2,233.4L429.3,231.9L431.7,229.9M435.1,231.3L433.6,230.5L433.4,230.8L431.7,229.9M418.7,123.7L416.7,123.6L414.9,125.3L413.3,126.1M420.3,124.6L420.4,126.1L420.2,127.2L420.8,129.1M420.8,129.1L420.0,129.8L418.4,129.2L417.4,129.8M417.4,129.8L416.1,128.8L414.2,127.3L413.3,126.1M404.7,130.0L405.1,130.2L405.8,131.1L406.0,131.5M406.0,131.5L407.7,132.0L409.9,132.3L411.3,132.6M413.1,126.1L413.1,126.1L413.1,126.1L413.1,126.1M413.1,126.1L413.3,129.3L410.9,130.9L411.3,132.6M413.1,126.1L413.2,126.1L413.2,126.1L413.3,126.1M424.9,122.6L426.2,123.7L426.4,125.4L427.0,126.0M427.0,126.0L426.5,126.9L426.4,128.8L426.1,129.4M420.8,129.1L421.1,129.1L422.3,129.9L422.6,130.2M426.1,129.4L424.8,130.3L423.8,129.3L422.6,130.2M465.3,139.8L460.0,140.1L455.8,137.3L450.7,137.8M465.3,139.8L474.8,142.7L486.2,147.6L495.3,152.4M450.7,137.8L448.1,139.5L442.4,139.4L439.5,142.4M495.3,152.4L491.9,152.3L489.9,152.4L487.4,154.4M487.4,154.4L479.7,154.0L470.0,156.7L462.3,157.8M458.5,157.9L452.5,154.8L444.5,150.4L439.3,145.4M458.5,157.9L459.5,157.9L461.5,157.8L462.3,157.8M439.5,142.4L439.4,143.3L438.9,144.0L439.3,145.4M435.6,139.0L437.4,139.3L438.4,141.9L439.5,142.4M435.6,139.0L437.8,137.7L437.6,135.6L439.4,135.0M439.4,135.0L441.5,136.5L443.9,135.2L447.8,136.2M447.8,136.2L449.0,137.1L449.3,137.7L450.7,137.8M451.6,178.9L464.5,171.4L476.5,162.2L487.4,154.4M443.5,176.1L448.2,169.7L457.5,164.7L462.3,157.8M481.4,125.7L474.5,120.9L468.2,118.0L463.0,115.8M456.4,99.9L456.0,100.6L453.7,102.5L453.4,104.2M463.0,115.8L459.7,112.0L456.7,109.6L453.4,104.2M442.3,98.7L443.9,102.2L446.3,103.2L448.0,105.2M448.0,105.2L449.8,104.5L451.4,103.8L453.4,104.2M450.2,159.4L449.5,159.1L448.9,159.0L448.3,159.1M450.2,159.4L448.2,161.9L443.6,166.7L440.6,169.9M448.3,159.1L444.8,159.3L444.4,159.5L440.6,160.4M440.6,160.4L438.9,160.9L436.4,162.7L435.8,163.8M435.8,163.8L434.7,164.8L435.0,167.6L435.4,169.5M435.4,169.5L437.9,169.9L439.0,169.3L440.6,169.9M441.2,174.3L441.4,173.4L440.4,171.1L440.6,169.9M458.5,157.9L454.7,158.4L452.1,157.8L450.2,159.4M433.5,171.9L433.5,171.6L433.8,171.3L433.7,170.7M433.5,171.9L434.2,172.7L436.1,174.1L436.5,176.3M433.7,170.7L434.4,170.0L434.8,169.8L435.4,169.5M391.0,125.7L391.1,126.3L391.2,126.6L391.4,126.9M396.2,129.7L396.0,129.8L395.8,129.8L395.7,129.8M391.4,126.9L392.6,127.9L394.4,128.0L395.7,129.8M417.4,129.8L416.4,131.6L416.2,133.0L416.1,133.9M422.6,130.2L422.9,133.2L421.0,134.7L421.2,136.3M421.2,136.3L419.6,134.8L418.6,133.9L416.1,133.9M406.0,131.5L406.3,133.7L406.4,137.1L405.5,138.5M405.5,138.5L408.5,138.7L410.7,137.7L412.1,137.9M411.3,132.6L411.6,133.3L412.6,134.2L413.0,135.0M412.1,137.9L412.8,136.6L412.8,136.1L413.0,135.0M413.0,135.0L413.6,134.2L414.5,134.0L416.1,133.9M400.7,132.2L399.3,133.6L400.7,136.7L399.5,137.8M405.5,138.5L405.2,139.1L404.8,139.0L404.2,139.6M399.5,137.8L400.6,138.6L402.6,139.9L404.2,139.6M419.9,210.9L419.8,208.7L419.9,207.6L420.4,206.4M419.9,210.9L420.4,212.2L422.8,213.0L423.3,213.2M423.3,213.2L425.5,212.3L426.2,211.4L428.3,209.6M424.5,204.8L423.2,205.0L422.3,205.6L421.6,205.3M420.4,206.4L420.8,206.1L421.4,205.9L421.6,205.3M421.4,195.9L422.6,197.8L424.7,199.2L427.2,199.4M421.4,195.9L420.9,196.9L420.2,197.2L419.0,198.1M421.6,205.3L420.1,203.6L419.6,200.2L419.0,198.1M389.9,244.0L390.8,242.0L392.0,239.0L395.2,237.5M395.2,237.5L393.6,235.9L392.1,234.7L390.7,233.5M385.9,239.7L385.6,239.0L386.2,238.1L386.0,237.0M386.0,237.0L387.0,236.0L389.0,234.5L390.7,233.5M332.7,145.9L334.0,147.2L336.5,148.8L338.3,150.5M338.3,150.5L338.5,153.4L337.0,155.8L337.4,160.6M333.8,163.3L335.1,163.1L335.1,162.0L336.4,161.8M337.4,160.6L337.1,160.8L337.0,161.7L336.4,161.8M413.0,237.7L412.8,237.4L412.3,237.3L411.6,237.4M417.3,230.2L417.0,229.0L416.2,227.4L415.2,227.0M415.2,227.0L414.6,226.6L414.2,226.6L414.1,226.5M414.1,226.5L413.2,227.3L411.9,227.6L411.0,227.8M411.0,227.8L410.1,231.2L408.6,233.5L409.0,234.5M411.6,237.4L411.0,236.0L410.1,235.2L409.0,234.5M406.9,247.4L407.4,246.6L406.7,244.1L406.5,242.7M411.6,237.4L411.1,239.1L408.2,240.3L406.5,242.7M397.6,247.8L397.8,244.6L399.1,240.6L400.3,239.2M406.5,242.7L404.3,242.3L402.7,241.7L400.3,239.2M395.2,237.5L397.2,237.1L398.8,237.1L399.5,237.0M400.3,239.2L400.1,238.3L399.4,237.6L399.5,237.0M419.9,210.9L419.0,210.9L417.7,212.5L416.9,212.6M423.3,213.2L423.6,213.9L423.7,214.4L423.6,214.6M417.3,218.3L418.0,216.6L417.0,215.3L416.9,212.6M417.3,218.3L418.6,219.0L419.3,219.7L420.6,219.8M423.6,214.6L422.9,216.0L422.1,217.9L420.6,219.8M371.2,260.1L370.7,256.8L368.9,255.3L369.3,253.0M375.0,250.5L374.0,250.2L372.8,249.7L371.0,250.1M369.3,253.0L369.8,251.5L370.7,251.0L371.0,250.1M361.7,256.9L361.5,256.5L362.0,255.8L362.3,254.9M369.3,253.0L365.8,253.8L364.2,255.3L362.3,254.9M356.5,250.7L357.2,251.1L358.8,250.9L359.7,250.9M362.3,254.9L361.2,253.9L360.6,252.2L359.7,250.9M426.5,107.7L427.5,108.8L429.3,109.0L429.6,109.5M425.3,119.5L426.4,118.8L428.6,116.4L429.2,115.8M429.2,115.8L429.3,112.7L428.5,110.8L429.6,109.5M438.8,98.3L434.8,100.3L433.8,104.1L430.5,109.2M429.6,109.5L430.0,109.5L430.3,109.2L430.5,109.2M439.4,135.0L439.8,133.6L439.0,131.6L438.2,130.3M447.8,136.2L444.8,134.7L443.0,131.7L442.5,129.5M438.2,130.3L438.2,130.2L438.5,130.0L438.6,129.8M442.5,129.5L441.6,130.3L440.5,129.7L438.6,129.8M373.9,122.0L373.8,122.1L373.6,122.5L373.4,122.6M384.6,125.5L383.8,126.1L383.6,126.9L383.4,127.5M373.4,122.6L373.4,124.0L374.8,125.1L376.1,127.2M383.4,127.5L380.0,127.5L377.5,127.6L376.1,127.2M383.4,127.5L383.5,129.5L385.1,130.6L384.8,132.4M376.1,127.2L376.5,128.1L376.4,131.3L375.9,132.0M375.9,132.0L376.8,133.6L378.2,133.7L380.1,134.4M380.1,134.4L382.1,133.0L382.3,133.7L384.8,132.4M391.4,126.9L391.2,129.2L388.4,130.2L388.2,132.0M388.2,132.0L387.4,132.1L386.0,132.5L385.4,132.7M385.4,132.7L385.1,132.5L385.0,132.5L384.8,132.4M395.7,129.8L394.3,131.0L394.7,132.5L394.0,134.1M399.5,137.8L399.4,137.8L399.4,137.8L399.3,137.9M399.3,137.9L398.1,136.9L396.8,135.7L394.0,134.1M388.2,132.0L389.5,132.7L391.4,134.6L392.2,134.9M386.7,139.2L386.8,137.6L386.1,135.1L385.4,132.7M386.7,139.2L388.6,138.6L390.2,138.7L390.8,139.2M390.8,139.2L391.3,137.2L391.2,135.8L392.2,134.9M394.0,134.1L393.7,134.7L392.8,135.0L392.2,134.9M429.6,157.9L431.0,158.0L431.9,157.3L432.3,156.6M429.6,157.9L429.4,158.4L429.3,159.2L428.8,160.1M432.3,156.6L436.0,157.3L439.4,160.4L440.6,160.4M435.8,163.8L433.1,162.8L432.6,162.7L429.4,162.7M428.8,160.1L428.9,161.0L429.6,161.8L429.4,162.7M433.7,170.7L432.6,168.5L428.8,166.5L428.0,166.1M429.4,162.7L428.6,164.1L427.8,164.5L428.0,166.1M409.0,234.5L407.5,235.1L404.9,233.8L402.5,233.4M399.5,237.0L400.0,235.8L400.8,234.8L400.9,234.3M400.9,234.3L401.1,234.2L401.8,233.9L402.5,233.4M416.9,212.6L416.6,212.5L415.9,212.4L414.9,212.0M414.9,212.0L414.7,210.7L412.3,207.9L411.8,206.9M420.4,206.4L417.1,206.3L414.8,205.5L413.0,204.3M411.8,206.9L412.4,206.2L412.7,205.5L413.0,204.3M419.0,198.1L417.4,198.7L416.3,198.6L415.1,198.6M415.1,198.6L414.6,200.2L414.1,200.8L412.7,203.2M413.0,204.3L413.0,204.2L412.6,203.6L412.7,203.2M415.1,198.6L413.0,196.9L413.4,196.0L411.5,193.5M406.5,197.4L408.1,195.7L410.6,194.0L411.5,193.5M406.5,197.4L406.7,199.0L406.2,199.8L406.6,200.7M412.7,203.2L410.1,202.0L409.6,201.4L406.6,200.7M417.3,218.3L416.5,219.2L415.0,220.0L413.0,220.1M413.0,220.1L412.2,219.8L411.8,219.4L411.0,219.1M414.9,212.0L414.1,212.7L412.0,213.4L409.6,215.8M411.0,219.1L410.6,218.3L410.1,217.0L409.6,215.8M431.6,213.8L431.6,214.6L431.0,216.4L430.8,217.7M423.6,214.6L425.7,216.1L428.1,216.9L429.8,217.9M430.8,217.7L430.6,217.7L430.2,217.8L429.8,217.9M371.6,243.4L371.6,246.1L371.8,246.5L370.6,249.2M371.6,243.4L370.8,242.9L368.4,241.4L367.1,238.7M370.6,249.2L366.6,246.8L365.6,245.1L362.6,245.5M367.1,238.7L364.5,240.4L364.0,241.9L362.3,244.4M362.3,244.4L362.3,244.9L362.5,245.0L362.6,245.5M377.1,240.3L375.5,242.4L373.5,241.8L371.6,243.4M377.1,240.3L377.4,240.6L378.0,241.6L379.1,241.9M371.0,250.1L370.8,249.8L370.7,249.3L370.6,249.2M359.7,250.9L360.8,248.5L362.1,246.3L362.6,245.5M357.2,241.3L355.9,241.4L355.2,242.3L354.1,243.1M357.2,241.3L358.6,243.3L360.6,242.5L362.3,244.4M434.3,138.2L431.3,138.4L430.8,137.1L427.6,136.9M434.3,138.2L434.7,136.7L434.7,133.2L433.4,130.9M427.6,136.9L427.1,136.0L428.6,133.3L428.2,131.8M433.4,130.9L431.7,131.5L430.5,132.0L428.2,131.8M426.2,138.0L426.5,137.9L427.1,137.5L427.6,136.9M426.2,138.0L426.2,139.3L426.6,141.1L427.2,143.7M435.2,139.0L434.2,140.2L431.2,143.0L430.8,145.2M435.2,139.0L434.8,138.8L434.6,138.3L434.3,138.2M427.2,143.7L427.8,143.8L430.1,144.2L430.8,145.2M435.6,139.0L435.5,138.9L435.4,139.0L435.2,139.0M433.5,130.8L434.5,130.7L436.8,130.1L438.2,130.3M433.5,130.8L433.5,130.8L433.5,130.9L433.4,130.9M426.1,129.4L427.0,130.0L427.4,130.7L428.2,131.8M421.6,137.3L421.3,137.0L421.2,136.8L421.2,136.3M421.6,137.3L423.9,138.0L425.1,138.2L426.2,138.0M427.0,126.0L429.3,125.8L431.0,125.5L432.4,124.8M432.4,124.8L431.8,127.4L432.1,128.4L433.5,130.8M432.4,124.8L433.2,123.9L433.3,123.1L433.9,122.6M438.6,129.8L438.8,128.9L437.4,127.3L438.2,124.9M438.2,124.9L437.6,123.4L434.7,122.6L433.9,122.6M429.2,115.8L431.8,116.4L431.8,120.2L433.8,121.3M433.9,122.6L434.0,122.1L434.0,121.8L433.8,121.3M431.2,146.1L431.5,147.6L430.7,148.4L430.7,149.2M431.2,146.1L434.3,145.5L435.1,146.6L437.4,147.2M430.7,149.2L431.7,149.5L433.5,151.2L433.8,152.8M437.4,147.2L436.7,148.8L437.3,150.3L437.3,151.7M437.3,151.7L435.9,152.6L434.7,152.2L433.8,152.8M439.3,145.4L438.9,145.9L437.9,146.3L437.4,147.2M430.8,145.2L431.0,145.5L431.1,145.7L431.2,146.1M429.6,157.9L428.0,155.2L427.3,155.4L425.7,152.4M432.3,156.6L432.2,155.3L432.8,153.5L433.8,152.8M425.7,152.4L428.2,152.1L428.2,150.4L430.7,149.2M448.3,159.1L443.7,156.3L441.4,153.5L437.3,151.7M384.7,141.1L383.5,141.0L382.4,141.4L381.7,141.5M384.7,141.1L387.1,144.0L386.6,145.6L388.8,147.0M381.7,141.5L381.4,142.9L381.3,144.2L380.1,146.7M380.1,146.7L382.4,148.4L384.2,149.0L385.6,150.0M388.8,147.0L388.1,148.3L387.2,148.4L386.8,149.8M386.8,149.8L386.5,149.8L385.8,150.0L385.6,150.0M386.7,139.2L386.4,140.2L385.1,140.3L384.7,141.1M380.2,139.9L380.7,140.1L381.0,140.8L381.7,141.5M380.2,139.9L380.2,138.9L380.6,136.0L380.1,134.4M359.6,170.9L359.4,170.1L358.6,169.7L358.2,168.4M359.6,170.9L361.9,171.4L363.0,170.7L364.5,171.2M366.7,169.0L365.6,169.7L365.0,170.7L364.5,171.2M366.7,169.0L366.7,168.8L366.7,168.6L366.7,168.5M358.2,168.4L357.4,167.0L359.8,164.5L359.3,162.1M359.3,162.1L360.1,162.4L361.5,162.1L361.9,162.4M366.7,168.5L364.7,165.1L362.2,165.1L361.9,162.4M364.2,107.1L363.1,113.7L365.4,116.8L364.9,122.9M344.6,89.5L349.5,102.2L351.9,113.3L356.1,123.7M364.9,122.9L363.1,124.2L360.0,124.1L356.1,123.7M373.4,122.6L372.3,122.4L369.3,123.1L366.1,123.6M364.9,122.9L365.5,123.1L365.9,123.6L366.1,123.6M339.6,121.3L340.4,123.0L340.7,124.1L341.4,124.6M341.4,124.6L344.0,124.8L349.4,127.3L353.8,126.5M356.1,123.7L355.1,124.0L354.9,125.1L353.8,126.5M341.4,124.6L342.3,129.1L338.7,129.7L339.5,134.4M336.2,136.3L336.7,136.4L337.8,136.0L338.4,135.5M339.5,134.4L339.1,134.9L338.6,135.4L338.4,135.5M421.6,137.3L420.9,138.6L419.6,140.2L419.2,140.8M412.1,137.9L412.1,138.7L412.9,139.5L413.5,140.4M413.5,140.4L414.7,140.7L415.5,141.0L416.1,141.6M419.2,140.8L418.5,141.1L417.0,140.9L416.1,141.6M427.2,143.7L426.6,143.9L424.7,145.4L423.0,146.2M419.2,140.8L420.7,141.5L423.0,143.7L423.0,146.2M425.3,152.3L424.5,150.6L423.2,149.7L422.2,148.5M425.3,152.3L425.4,152.4L425.5,152.3L425.7,152.4M423.0,146.2L423.0,147.1L422.8,148.0L422.2,148.5M401.0,146.8L401.5,145.3L403.5,144.8L404.8,144.4M401.0,146.8L401.9,147.9L401.1,150.0L401.5,151.9M404.8,144.4L405.5,145.2L405.8,144.9L407.0,145.7M402.6,152.8L402.3,152.7L401.8,152.2L401.5,151.9M402.6,152.8L404.3,151.7L405.8,151.5L406.9,151.3M407.0,145.7L407.3,147.5L407.2,150.0L406.9,151.3M404.2,139.6L404.5,141.9L405.0,142.7L404.8,144.4M413.5,140.4L412.2,141.7L410.8,143.5L409.4,145.6M407.0,145.7L408.1,145.4L408.2,145.9L409.4,145.6M392.0,140.5L394.1,139.9L394.9,140.9L397.1,140.3M392.0,140.5L391.5,142.4L391.0,143.9L391.5,146.1M397.1,140.3L396.2,143.0L396.9,143.7L397.7,146.1M391.5,146.1L392.7,146.2L393.5,146.9L394.8,147.5M394.8,147.5L395.2,147.1L396.2,146.1L397.7,146.1M399.3,137.9L399.0,139.2L398.1,139.2L397.1,140.3M390.8,139.2L390.9,139.7L391.5,140.3L392.0,140.5M388.8,147.0L389.6,147.0L390.7,146.1L391.5,146.1M401.0,146.8L399.6,146.7L398.4,146.9L397.7,146.1M390.6,154.7L392.2,153.7L393.3,153.1L395.0,153.0M390.6,154.7L390.3,153.9L388.4,150.9L386.8,149.8M395.0,153.0L395.4,151.0L394.9,150.2L394.8,147.5M395.0,153.0L395.2,153.0L395.7,153.3L396.1,153.6M396.1,153.6L397.2,153.5L399.2,151.9L401.5,151.9M425.3,152.3L424.1,154.3L422.6,154.7L420.2,157.9M428.8,160.1L426.3,160.1L423.5,158.5L421.6,159.6M420.2,157.9L420.4,158.5L420.8,159.2L421.6,159.6M428.0,166.1L427.4,166.5L427.1,166.4L426.9,166.8M426.9,166.8L424.4,167.1L422.6,164.4L420.9,164.3M421.6,159.6L421.4,161.6L420.3,162.2L420.9,164.3M421.6,193.6L422.0,193.1L423.4,191.7L424.8,190.8M421.6,193.6L420.0,192.9L419.2,191.3L417.6,190.4M417.6,190.4L417.9,189.7L418.2,188.2L417.5,186.5M417.5,186.5L419.5,185.3L420.3,186.5L423.1,185.6M423.1,185.6L424.3,186.8L424.8,188.0L425.2,188.6M425.2,188.6L425.1,189.1L425.1,190.1L424.8,190.8M429.6,193.8L428.4,192.6L426.9,191.5L424.8,190.8M421.4,195.9L421.8,194.7L421.7,194.1L421.6,193.6M411.5,193.5L411.5,193.4L411.5,193.4L411.5,193.4M411.5,193.4L413.7,193.5L414.7,192.1L417.6,190.4M433.2,189.4L432.9,187.7L431.9,187.2L430.2,186.6M430.2,186.6L429.5,187.1L426.7,187.5L425.2,188.6M426.9,166.8L427.0,167.4L426.5,168.5L425.4,170.1M420.9,164.3L420.1,165.3L418.8,165.8L418.4,166.1M418.4,166.1L420.0,168.8L420.6,169.3L420.7,171.5M420.7,171.5L421.9,170.8L423.4,170.0L425.4,170.1M413.0,220.1L414.3,222.7L413.9,224.7L414.1,226.5M411.0,227.8L409.4,226.7L408.5,226.8L407.6,226.2M411.0,219.1L409.7,220.6L407.7,221.3L407.3,222.1M407.3,222.1L407.2,224.1L407.2,224.6L407.6,226.2M402.5,233.4L402.6,230.5L403.2,229.2L403.6,227.7M407.6,226.2L406.6,226.5L404.4,227.0L403.6,227.7M411.8,206.9L410.5,207.5L409.4,208.3L408.2,208.8M409.6,215.8L408.3,214.9L408.1,214.3L407.1,214.2M408.2,208.8L407.9,210.6L406.6,212.6L407.1,214.2M377.1,240.3L377.1,239.6L377.0,239.4L376.9,238.7M386.0,237.0L383.6,236.2L383.1,234.7L381.3,232.3M381.3,232.3L381.2,232.4L381.1,232.3L381.0,232.4M376.9,238.7L377.0,236.4L380.8,233.2L381.0,232.4M349.7,235.1L350.3,234.9L351.8,235.1L353.9,234.1M346.0,230.5L347.6,230.2L348.2,227.5L350.2,227.1M350.2,227.1L352.3,228.1L353.8,228.2L354.8,228.7M354.8,228.7L353.6,229.8L354.5,232.7L353.9,234.1M357.2,241.3L358.2,239.1L357.5,237.6L357.7,236.9M357.7,236.9L356.1,236.8L355.2,234.9L353.9,234.1M366.7,169.0L368.2,169.6L369.9,169.3L371.3,170.4M364.5,171.2L365.8,173.7L364.9,174.4L365.8,176.6M371.3,170.4L371.5,172.9L373.1,173.5L373.9,175.1M373.9,175.1L373.9,175.4L373.4,175.7L373.4,175.9M373.4,175.9L370.9,177.5L369.5,175.2L365.8,176.6M353.0,167.9L352.8,166.3L351.8,165.8L352.1,164.7M353.0,167.9L352.0,168.9L351.5,169.9L350.9,170.5M350.9,170.5L350.2,170.9L347.9,169.1L345.9,169.7M348.9,163.5L347.4,165.1L346.3,167.8L345.6,168.8M348.9,163.5L349.8,164.0L351.1,164.9L352.1,164.7M345.9,169.7L345.9,169.4L345.6,169.1L345.6,168.8M337.4,160.6L339.7,160.5L341.5,160.7L344.3,159.5M336.4,161.8L338.5,163.3L343.4,167.6L345.6,168.8M344.3,159.5L345.5,159.6L346.4,160.4L347.8,161.1M347.8,161.1L348.0,162.2L348.6,162.5L348.9,163.5M337.2,178.1L338.1,178.2L338.4,178.5L339.2,178.4M343.1,175.4L341.6,175.9L341.2,178.2L339.2,178.4M343.1,175.4L345.1,172.9L344.6,170.9L345.9,169.7M423.9,227.5L422.7,225.8L421.4,225.6L420.3,223.6M423.9,227.5L424.8,226.8L425.9,226.5L427.1,226.4M427.1,226.4L427.5,223.8L426.2,222.4L426.2,221.2M426.2,221.2L425.0,221.4L422.4,221.5L420.9,220.4M420.3,223.6L420.1,222.7L420.8,221.1L420.9,220.4M422.2,230.7L422.9,229.2L423.0,229.2L423.9,227.5M415.2,227.0L416.1,226.9L418.3,225.8L420.3,223.6M431.7,229.9L431.4,229.0L430.7,228.7L430.4,227.7M430.4,227.7L429.9,227.0L427.6,227.3L427.1,226.4M420.6,219.8L420.8,220.0L420.8,220.1L420.9,220.4M429.8,217.9L429.4,219.5L426.7,219.5L426.2,221.2M431.9,218.7L431.7,219.8L432.0,221.0L432.9,222.0M431.9,218.7L433.4,218.9L436.7,218.1L439.3,217.6M432.9,222.0L435.2,223.2L436.1,222.6L439.3,224.3M439.3,217.6L440.1,219.1L439.8,220.5L441.0,221.3M441.0,221.3L440.8,222.0L440.5,223.0L439.3,224.3M430.4,227.7L432.2,225.9L432.2,223.4L432.9,222.0M430.8,217.7L431.4,217.9L431.5,218.3L431.9,218.7M439.9,215.1L439.5,215.9L439.8,216.5L439.3,217.6M439.4,226.1L439.1,225.6L439.5,225.0L439.3,224.3M457.4,220.1L451.7,220.5L446.4,222.0L441.0,221.3M442.5,129.5L442.4,128.6L443.4,127.5L444.2,126.3M438.2,124.9L439.3,124.9L441.2,124.5L442.3,123.0M442.3,123.0L442.4,124.7L443.1,125.2L444.2,126.3M465.3,139.8L461.5,136.0L454.8,130.2L451.8,127.2M451.8,127.2L449.7,127.5L446.4,127.7L444.2,126.3M380.2,139.9L378.0,138.9L375.6,140.3L373.4,140.1M380.1,146.7L379.7,146.7L379.5,147.0L379.2,147.1M379.2,147.1L378.4,146.7L375.1,146.9L373.9,146.1M373.9,146.1L372.8,143.7L374.4,142.8L373.4,140.1M366.7,168.5L367.5,167.2L369.6,164.0L370.0,162.4M361.9,162.4L364.3,161.6L365.1,160.7L366.7,159.8M366.7,159.8L368.1,160.2L368.9,161.5L370.0,162.4M353.8,126.5L353.4,128.2L354.3,128.9L354.0,130.2M339.5,134.4L343.2,134.2L346.1,136.0L349.3,136.2M349.3,136.2L350.7,134.5L353.6,131.6L354.0,130.2M420.2,157.9L419.6,157.6L418.3,157.8L417.7,157.1M415.7,165.7L416.6,166.0L417.5,165.6L418.4,166.1M415.7,165.7L415.4,165.4L413.9,164.7L413.7,163.9M413.7,163.9L413.9,162.7L413.6,161.8L413.0,160.6M417.7,157.1L415.7,158.3L414.0,158.6L413.0,160.6M406.5,197.4L405.7,195.9L402.9,196.3L402.0,194.6M404.5,189.0L404.2,190.9L403.8,191.7L401.9,194.5M404.5,189.0L406.4,188.2L407.3,188.9L408.8,188.7M411.5,193.4L410.4,192.3L410.5,189.5L408.8,188.7M402.0,194.6L402.0,194.6L401.9,194.5L401.9,194.5M415.7,165.7L413.9,168.5L414.0,172.3L413.3,173.4M413.3,173.4L413.9,173.8L414.8,173.9L415.0,174.7M420.7,171.5L420.7,171.9L420.3,172.1L420.0,172.7M415.0,174.7L416.9,174.7L419.0,172.8L420.0,172.7M408.8,188.7L409.2,188.6L409.2,187.8L409.4,187.6M417.5,186.5L417.4,186.0L417.1,185.7L416.5,185.3M416.5,185.3L413.2,185.6L412.6,185.5L409.4,187.6M416.5,185.3L416.2,182.8L416.7,182.8L416.0,180.2M416.0,180.2L415.9,180.1L415.7,180.1L415.7,180.0M415.7,180.0L414.1,180.2L410.1,181.5L408.9,181.6M409.4,187.6L408.8,186.3L409.8,183.8L408.8,181.7M408.8,181.7L408.8,181.7L408.9,181.6L408.9,181.6M406.6,200.7L405.4,201.5L405.2,203.0L403.4,203.5M408.2,208.8L406.3,207.3L405.8,206.6L403.5,205.8M403.4,203.5L403.6,203.9L403.9,204.7L403.5,205.8M402.0,194.6L401.8,197.0L400.1,198.1L398.8,200.9M403.4,203.5L402.3,202.5L399.4,201.7L398.8,200.9M376.9,238.7L374.1,238.3L373.3,235.2L371.9,234.9M381.0,232.4L379.5,232.6L375.9,231.1L374.0,229.3M374.0,229.3L372.9,230.8L373.0,232.6L371.9,234.9M367.1,238.7L367.2,237.7L366.8,237.6L367.1,236.7M371.9,234.9L369.7,235.2L369.5,235.4L367.1,236.7M357.7,236.9L360.1,235.9L360.4,235.8L363.6,233.5M367.1,236.7L365.1,235.3L364.0,234.8L363.6,233.5M350.2,227.1L350.9,225.9L350.7,223.3L349.7,221.7M354.8,228.7L355.5,227.8L356.5,226.9L358.2,226.5M349.7,221.7L351.3,222.3L352.9,220.8L353.8,221.2M358.2,226.5L357.0,225.3L354.5,222.7L353.8,221.2M318.0,223.6L321.9,223.5L329.0,221.0L333.0,218.9M325.9,237.3L328.8,232.0L334.1,226.4L336.1,223.4M333.0,218.9L333.8,220.1L334.9,220.4L335.1,221.0M335.1,221.0L335.4,221.4L335.7,222.2L336.1,223.4M341.4,229.7L340.4,228.9L338.4,225.3L337.6,224.4M336.1,223.4L336.6,223.7L337.4,223.9L337.6,224.4M349.7,221.7L349.5,221.7L349.5,221.6L349.4,221.5M337.6,224.4L343.0,224.4L346.2,221.9L349.4,221.5M315.2,194.4L316.6,195.3L320.4,196.3L322.7,199.0M328.6,183.3L329.3,185.2L330.2,189.8L331.7,193.5M322.7,199.0L326.7,198.2L330.1,194.1L331.7,193.5M316.6,210.3L317.6,209.4L319.5,208.1L322.0,207.8M322.7,199.0L322.7,201.7L321.4,205.8L322.0,207.8M333.0,218.9L332.5,216.4L333.3,214.8L331.4,211.6M322.0,207.8L325.7,209.0L327.1,211.2L331.4,211.6M353.8,221.2L354.5,219.5L355.8,218.8L356.7,216.7M356.7,216.7L356.3,216.5L354.4,214.6L353.9,214.1M349.4,221.5L348.8,219.4L349.5,218.7L348.5,216.7M353.9,214.1L351.8,213.8L349.5,215.2L348.5,216.7M335.1,221.0L337.9,218.2L340.6,216.5L345.2,214.3M348.5,216.7L347.7,215.5L346.1,214.6L345.2,214.3M358.2,168.4L357.0,167.6L354.6,167.4L353.0,167.9M359.3,162.1L358.9,161.1L358.0,160.8L357.8,160.3M352.1,164.7L352.6,162.2L354.5,161.6L356.9,160.4M356.9,160.4L357.0,160.3L357.4,160.4L357.8,160.3M347.8,161.1L349.2,160.7L349.7,159.0L351.9,158.2M356.9,160.4L355.9,160.6L353.4,158.5L351.9,158.2M443.4,119.5L444.9,119.5L447.7,121.6L449.6,121.8M443.4,119.5L443.3,118.6L443.1,117.6L442.2,116.1M442.2,116.1L442.7,115.3L442.1,114.1L442.5,112.8M452.2,116.9L451.2,113.8L448.1,112.8L444.9,111.0M452.2,116.9L450.4,118.0L450.7,120.2L449.6,121.8M444.9,111.0L444.4,111.9L443.2,112.0L442.5,112.8M442.3,123.0L443.3,122.0L442.6,121.2L443.4,119.5M451.8,127.2L451.4,125.0L451.3,124.6L449.6,121.8M433.8,121.3L436.0,120.6L438.2,116.6L442.2,116.1M430.5,109.2L433.2,109.7L439.0,110.3L442.5,112.8M463.0,115.8L459.9,117.5L454.6,116.1L452.2,116.9M448.0,105.2L445.8,106.7L444.8,109.5L444.9,111.0M403.2,157.0L402.9,157.5L401.8,158.4L401.5,158.7M403.2,157.0L406.2,156.9L407.0,158.5L409.1,158.0M401.5,158.7L401.4,160.0L401.9,162.0L402.7,162.7M409.1,158.0L409.2,158.2L409.6,158.6L409.6,158.8M409.6,158.8L409.1,161.5L406.7,161.2L405.7,163.5M402.7,162.7L403.7,162.8L404.2,163.1L405.7,163.5M396.1,153.6L397.3,156.1L397.1,156.9L397.9,158.5M402.6,152.8L402.7,154.0L402.8,155.7L403.2,157.0M397.9,158.5L399.1,158.3L400.1,158.7L401.5,158.7M406.9,151.3L408.4,152.4L409.1,152.3L409.7,153.5M409.7,153.5L409.7,154.3L409.2,156.4L409.1,158.0M416.7,153.4L415.7,152.1L414.1,151.9L412.6,151.7M416.7,153.4L417.0,151.9L418.0,150.1L419.9,149.1M419.9,149.1L418.9,148.2L417.5,148.1L416.1,146.5M416.1,146.5L415.1,147.4L414.4,148.0L412.5,148.2M412.5,148.2L413.1,149.8L412.8,151.1L412.6,151.7M417.7,157.1L417.9,156.3L417.5,154.5L416.7,153.4M409.7,153.5L410.2,153.2L411.6,152.0L412.6,151.7M413.0,160.6L412.4,160.5L411.2,159.5L409.6,158.8M422.2,148.5L421.5,148.4L420.6,148.8L419.9,149.1M416.1,141.6L415.8,144.0L415.5,144.4L416.1,146.5M409.4,145.6L410.1,146.4L410.9,147.7L412.5,148.2M423.1,177.2L422.8,177.7L423.1,178.6L422.6,179.7M423.1,177.2L424.1,176.1L426.3,176.1L427.7,174.5M424.0,181.5L423.6,180.9L423.1,180.6L422.6,179.7M424.0,181.5L426.6,180.4L429.0,182.5L430.5,181.3M430.9,180.9L430.7,181.0L430.6,181.2L430.5,181.3M430.9,180.9L430.7,179.4L429.6,177.5L429.1,175.0M429.1,175.0L428.8,175.0L428.4,174.8L427.7,174.5M415.0,174.7L415.8,176.9L416.2,178.3L415.7,180.0M420.0,172.7L420.9,174.2L421.8,175.7L423.1,177.2M416.0,180.2L417.7,180.4L419.9,180.7L422.6,179.7M425.4,170.1L425.4,170.8L427.2,172.9L427.7,174.5M423.1,185.6L423.1,184.9L423.5,183.2L424.0,181.5M430.2,186.6L429.8,185.3L430.7,183.7L430.5,181.3M435.5,180.4L433.2,179.9L432.1,179.9L430.9,180.9M433.5,171.9L431.3,172.1L430.9,174.9L429.1,175.0M413.7,163.9L412.3,166.0L410.1,166.5L407.6,168.2M405.7,163.5L406.3,165.8L407.0,166.8L407.5,168.2M407.6,168.2L407.6,168.2L407.5,168.2L407.5,168.2M413.3,173.4L413.0,173.4L412.7,173.2L412.4,173.3M407.6,168.2L409.6,170.3L410.3,172.1L412.4,173.3M408.9,181.6L408.8,179.4L409.0,177.2L408.0,176.2M412.4,173.3L411.0,173.9L409.8,175.5L408.0,176.2M380.4,181.1L382.8,181.8L385.0,182.0L386.2,184.0M380.4,181.1L380.0,179.5L380.5,178.8L380.9,176.8M384.3,174.8L383.0,175.3L381.5,176.2L380.9,176.8M384.3,174.8L386.2,176.2L387.3,176.3L388.8,177.7M388.8,177.7L388.7,179.8L388.5,181.5L387.6,182.7M387.6,182.7L387.0,183.2L387.0,183.8L386.2,184.0M404.5,189.0L403.8,188.5L403.4,188.1L403.2,187.8M408.8,181.7L405.8,180.7L404.0,180.9L402.8,181.7M403.2,187.8L402.2,185.3L402.2,183.8L402.8,181.7M407.1,214.2L406.2,214.8L405.3,214.4L404.6,214.8M403.5,205.8L402.3,206.4L401.3,208.1L400.5,209.1M404.6,214.8L402.5,212.1L401.1,212.0L400.5,209.1M407.3,222.1L404.7,222.0L403.2,220.5L401.0,220.1M403.6,227.7L403.2,227.3L402.1,226.0L400.9,224.4M401.0,220.1L400.3,221.9L401.0,223.5L400.9,224.4M404.6,214.8L403.7,216.6L403.1,218.2L401.1,218.5M401.1,218.5L401.0,218.8L401.1,219.3L400.8,219.7M401.0,220.1L400.9,220.0L400.9,219.8L400.8,219.7M400.9,234.3L399.3,233.1L396.1,229.8L395.0,228.0M400.9,224.4L398.4,225.7L396.9,227.3L395.0,228.0M393.0,196.9L394.7,198.0L397.1,200.5L398.7,200.9M393.0,196.9L392.9,198.8L392.8,201.0L391.5,202.7M398.7,200.9L397.5,201.6L395.6,204.1L395.1,205.7M395.1,205.7L393.3,204.8L393.2,204.5L391.5,202.7M393.0,196.9L393.0,196.8L392.9,196.7L392.9,196.7M392.9,196.7L389.8,196.1L388.0,198.2L386.3,197.8M386.3,197.8L386.5,199.9L386.1,203.0L386.6,204.1M391.5,202.7L390.3,203.9L387.4,204.1L386.6,204.1M367.7,221.8L366.5,221.4L366.0,219.8L364.7,219.2M367.7,221.8L367.1,223.1L366.5,225.1L366.4,227.6M364.7,219.2L363.9,219.7L361.9,219.5L361.3,220.5M361.3,220.5L361.0,221.6L360.0,225.6L359.4,226.5M359.4,226.5L360.8,226.9L362.1,228.2L363.4,229.5M366.4,227.6L365.2,228.1L364.0,229.2L363.4,229.5M375.2,224.4L374.7,226.5L374.1,227.7L373.8,228.7M375.2,224.4L374.6,223.5L373.1,222.3L371.7,220.8M373.8,228.7L370.9,229.6L368.4,227.4L366.4,227.6M371.7,220.8L371.0,221.0L368.4,221.9L367.7,221.8M358.2,226.5L358.6,226.5L359.0,226.3L359.4,226.5M356.7,216.7L356.8,216.7L356.8,216.8L356.9,216.7M356.9,216.7L358.2,217.5L360.5,219.3L361.3,220.5M363.6,233.5L363.2,231.5L362.9,230.2L363.4,229.5M373.8,228.7L373.9,229.0L373.9,229.1L374.0,229.3M356.9,216.7L359.6,215.9L360.9,214.8L361.9,212.5M364.7,219.2L365.1,218.6L365.6,216.9L365.3,216.4M365.3,216.4L364.3,214.6L363.5,214.0L361.9,212.5M382.0,205.4L380.7,202.9L381.9,201.8L380.2,198.4M382.0,205.4L380.7,206.1L379.8,205.8L379.3,206.4M380.2,198.4L378.0,198.8L376.6,199.2L375.6,200.4M379.3,206.4L378.2,205.7L377.4,205.6L376.5,205.1M375.6,200.4L375.4,201.9L375.8,203.0L376.5,205.1M375.6,200.4L374.9,199.8L374.1,199.5L373.0,199.1M371.0,206.8L373.2,207.1L374.1,206.3L376.5,205.1M371.0,206.8L369.9,204.6L371.8,202.5L370.5,200.0M373.0,199.1L372.5,199.3L371.4,199.6L370.5,200.0M338.5,205.3L338.0,205.3L337.1,204.8L336.7,204.9M338.5,205.3L340.1,204.8L343.1,202.8L344.9,202.6M336.7,204.9L335.5,200.8L335.5,199.8L334.6,195.5M344.9,202.6L345.0,201.7L345.4,199.4L346.6,198.0M346.6,198.0L342.9,196.0L342.7,196.3L339.4,193.8M339.4,193.8L337.0,194.1L335.7,195.1L334.6,195.5M331.4,211.6L332.1,208.8L334.5,206.7L336.7,204.9M345.5,210.9L344.9,212.1L344.7,212.9L345.2,214.3M345.5,210.9L342.0,207.7L341.4,205.5L338.5,205.3M331.7,193.5L332.7,193.6L333.3,195.1L334.6,195.5M339.2,178.4L339.6,179.1L340.8,179.7L341.0,180.4M341.0,180.4L341.7,184.2L343.0,186.3L344.0,189.1M344.0,189.1L343.0,190.9L341.8,193.2L339.4,193.8M349.6,197.1L348.7,197.2L348.1,198.2L346.6,198.0M349.6,197.1L348.6,196.0L349.2,191.9L349.0,190.7M344.0,189.1L344.6,189.2L346.0,188.7L347.6,189.4M349.0,190.7L348.7,190.3L347.7,190.0L347.6,189.4M344.3,159.5L346.0,157.0L347.3,155.7L347.3,154.1M351.9,158.2L352.1,157.5L351.2,156.7L351.2,155.3M347.3,154.1L348.1,153.9L350.4,155.1L351.2,155.3M362.7,143.8L364.1,144.5L364.6,143.7L365.8,144.5M362.7,143.8L361.7,140.2L362.0,139.0L361.2,135.7M365.8,144.5L366.8,140.8L367.5,140.1L370.4,137.1M366.3,133.8L364.4,134.5L362.0,134.9L361.2,135.7M366.3,133.8L368.4,134.2L369.1,136.3L370.3,136.5M370.3,136.5L370.4,136.6L370.3,137.0L370.4,137.1M360.1,135.5L359.4,137.9L356.7,138.5L356.4,140.1M360.1,135.5L360.4,135.5L360.7,135.6L361.2,135.7M356.4,140.1L356.5,142.7L358.0,142.8L358.7,145.6M358.7,145.6L359.8,145.6L361.2,143.7L362.7,143.8M366.1,123.6L367.1,125.4L366.3,130.9L366.3,133.8M354.0,130.2L357.3,133.2L359.3,133.4L360.1,135.5M375.9,132.0L374.7,134.5L372.3,136.2L370.3,136.5M373.4,140.1L371.8,138.9L371.1,137.7L370.4,137.1M371.1,148.3L369.5,148.5L368.3,147.4L367.5,147.4M371.1,148.3L371.7,150.4L371.8,152.5L372.4,153.3M367.5,147.4L366.0,149.5L364.9,151.1L363.2,153.0M372.4,153.3L372.2,153.5L372.1,154.1L371.9,154.2M371.9,154.2L370.6,154.3L368.9,155.4L366.6,156.1M366.6,156.1L366.0,155.5L364.4,154.9L363.2,153.3M363.2,153.3L363.2,153.2L363.2,153.1L363.2,153.0M373.9,146.1L372.5,146.8L372.1,148.2L371.1,148.3M365.8,144.5L366.0,146.0L366.5,146.1L367.5,147.4M379.2,147.1L378.9,149.3L378.5,151.8L378.0,153.0M378.0,153.0L375.8,152.7L375.1,153.0L372.4,153.3M366.7,159.8L367.1,158.3L367.1,157.2L366.6,156.1M358.7,157.0L358.1,157.9L358.4,159.2L357.8,160.3M358.7,157.0L360.4,155.8L361.0,154.3L363.2,153.3M370.0,162.4L370.0,162.4L370.1,162.4L370.2,162.4M371.9,154.2L372.4,156.2L372.3,156.3L373.4,158.2M370.2,162.4L371.0,161.0L373.0,159.3L373.4,158.2M371.3,170.4L373.1,169.9L375.4,168.2L375.7,165.7M370.2,162.4L371.8,163.6L374.9,163.8L375.7,165.7M384.3,174.8L383.6,173.5L384.5,172.2L384.2,170.9M375.8,174.7L376.0,173.5L377.4,170.6L378.4,169.8M375.8,174.7L377.7,174.7L378.9,175.6L380.9,176.8M384.2,170.9L384.1,170.9L384.1,170.7L384.0,170.6M378.4,169.8L381.0,169.4L382.9,170.0L384.0,170.6M373.9,175.1L374.7,174.8L375.1,175.0L375.8,174.7M375.7,165.7L376.0,165.7L376.1,165.6L376.2,165.6M378.4,169.8L377.8,168.2L376.4,166.6L376.2,165.6M397.9,158.5L397.1,158.9L396.9,159.8L395.9,160.7M399.5,166.1L398.2,165.3L397.9,164.5L396.1,164.0M399.5,166.1L400.0,164.2L401.8,164.6L402.7,162.7M395.9,160.7L396.4,161.7L396.2,162.4L396.1,164.0M391.6,191.0L392.8,188.7L391.8,186.1L393.2,185.1M391.6,191.0L392.7,191.4L393.1,192.2L393.8,193.3M396.1,192.5L395.6,192.4L394.1,193.0L393.8,193.3M396.1,192.5L397.2,191.7L397.0,189.3L398.3,187.6M398.3,187.6L397.1,186.7L396.5,185.3L396.1,183.8M393.2,185.1L394.4,184.8L395.0,183.7L396.1,183.8M387.6,182.7L389.1,184.1L390.6,185.3L393.2,185.1M386.2,184.0L386.1,184.2L386.1,184.3L386.1,184.5M386.1,184.5L387.1,187.4L388.2,189.4L388.7,190.4M388.7,190.4L389.8,190.4L390.5,190.6L391.6,191.0M392.9,196.7L393.4,195.0L393.4,194.4L393.8,193.3M385.1,192.7L386.0,192.5L387.8,190.8L388.7,190.4M385.1,192.7L385.8,194.1L384.8,196.3L385.3,197.0M385.3,197.0L385.5,197.3L386.1,197.6L386.3,197.8M401.9,194.5L399.7,193.9L397.6,192.1L396.1,192.5M398.8,200.9L398.7,200.9L398.7,200.9L398.7,200.9M403.2,187.8L401.9,186.9L400.3,187.7L398.3,187.6M402.8,181.7L402.7,181.6L402.5,181.5L402.3,181.2M402.3,181.2L400.9,182.0L398.6,182.3L396.5,182.8M396.5,182.8L396.4,183.1L396.3,183.5L396.1,183.8M390.7,233.5L391.3,232.1L390.6,231.7L390.8,230.2M381.3,232.3L382.4,231.2L383.9,229.2L384.2,227.7M390.8,230.2L388.8,230.5L386.8,229.0L384.2,227.7M395.0,228.0L394.6,227.8L394.2,227.8L393.8,227.7M390.8,230.2L391.8,229.0L392.7,229.0L393.8,227.7M377.9,223.3L377.4,223.3L375.9,223.9L375.2,224.4M377.9,223.3L380.9,225.0L382.0,224.1L383.8,225.3M383.8,225.3L383.6,226.4L384.5,227.0L384.2,227.7M401.1,218.5L398.9,216.2L399.4,215.1L396.9,214.0M400.5,209.1L399.4,209.5L398.1,208.9L397.5,209.5M396.9,214.0L397.9,212.7L396.7,211.1L397.5,209.5M395.1,205.7L395.3,206.4L395.3,206.9L395.3,207.9M397.5,209.5L397.0,209.2L395.7,208.4L395.3,207.9M383.9,205.8L384.4,205.5L385.7,205.4L386.1,204.9M383.9,205.8L383.0,209.0L384.9,210.1L384.7,212.2M386.1,204.9L387.1,205.6L388.4,208.7L391.4,209.6M384.7,212.2L385.6,213.4L388.9,213.3L389.7,213.7M389.7,213.7L390.0,212.3L391.1,211.0L391.4,209.6M380.2,198.3L380.2,198.3L380.2,198.3L380.2,198.4M380.2,198.3L381.2,198.3L383.1,197.9L385.3,197.0M382.0,205.4L382.8,205.6L383.6,205.5L383.9,205.8M386.6,204.1L386.4,204.4L386.1,204.7L386.1,204.9M381.6,214.7L382.4,214.3L383.7,212.4L384.7,212.2M381.6,214.7L381.0,213.2L378.8,211.9L377.9,210.9M377.9,210.9L378.6,208.6L379.2,207.8L379.3,206.4M395.3,207.9L393.5,207.7L393.1,209.0L391.4,209.6M368.8,214.5L369.7,212.9L368.8,209.3L368.5,208.3M368.8,214.5L369.6,215.0L371.9,216.4L372.7,216.4M374.9,212.0L374.2,209.8L372.2,207.9L370.5,207.5M374.9,212.0L373.8,214.0L373.9,214.3L373.5,216.0M370.5,207.5L369.6,207.6L369.4,208.3L368.5,208.3M373.5,216.0L373.3,216.1L373.1,216.4L372.7,216.4M365.3,216.4L365.7,215.1L368.3,214.5L368.8,214.5M361.9,212.5L361.9,212.4L361.9,212.3L361.9,212.3M368.1,208.2L366.2,210.2L363.1,211.6L361.9,212.3M368.1,208.2L368.2,208.2L368.5,208.2L368.5,208.3M371.7,220.8L371.3,218.9L372.0,218.3L372.7,216.4M377.9,210.9L376.5,211.5L376.2,211.9L374.9,212.0M371.0,206.8L370.9,207.0L370.6,207.3L370.5,207.5M378.9,217.7L376.7,216.7L376.0,216.7L373.5,216.0M378.9,217.7L380.0,217.4L380.9,216.3L381.3,216.2M381.6,214.7L381.3,215.2L381.6,215.7L381.3,216.2M377.9,223.3L377.5,221.0L379.3,219.3L378.9,217.7M373.3,180.3L370.0,180.7L368.7,181.9L366.6,182.6M373.3,180.3L373.7,181.0L374.3,181.6L374.5,181.7M374.5,181.7L373.5,182.9L373.5,184.5L373.3,186.4M366.6,183.1L366.5,183.0L366.5,182.8L366.6,182.6M366.6,183.1L368.2,185.2L369.5,186.2L370.5,187.0M370.5,187.0L371.7,186.4L372.2,186.7L373.3,186.4M373.4,175.9L372.8,177.5L373.1,179.1L373.3,180.3M365.8,176.6L365.6,177.4L364.7,178.4L364.4,179.8M364.4,179.8L365.6,180.2L365.5,181.8L366.6,182.6M380.4,181.1L380.1,181.8L379.4,182.2L378.8,182.3M378.8,182.3L377.1,181.9L376.0,182.0L374.5,181.7M364.4,179.8L363.8,179.9L363.4,179.6L362.7,179.9M363.1,188.7L360.7,187.4L358.8,187.0L357.3,186.1M363.1,188.7L364.4,186.5L364.4,185.9L366.6,183.1M357.3,186.1L357.2,185.8L357.2,185.6L357.0,185.3M362.7,179.9L361.2,180.9L358.2,183.8L357.0,185.3M369.1,190.7L369.5,189.3L370.0,188.1L370.5,187.0M369.1,190.7L367.8,191.1L364.6,189.6L363.5,189.9M363.5,189.9L363.2,189.4L363.3,189.4L363.1,188.7M375.7,188.5L377.3,187.4L377.8,187.8L379.1,187.0M375.7,188.5L375.4,189.2L374.6,192.0L375.2,193.0M378.2,194.0L377.4,193.9L376.2,193.5L375.2,193.0M378.2,194.0L378.7,192.3L380.7,192.8L382.2,191.1M379.1,187.0L380.0,187.1L380.3,188.0L381.6,188.2M382.2,191.1L382.3,190.0L381.4,189.3L381.6,188.2M378.8,182.3L379.5,184.1L378.7,185.8L379.1,187.0M373.3,186.4L374.6,187.4L375.4,187.5L375.7,188.5M369.1,190.7L369.8,191.4L370.1,191.6L370.2,192.4M374.5,193.4L373.7,193.7L372.2,192.8L370.2,192.4M374.5,193.4L374.8,193.1L375.0,193.2L375.2,193.0M380.2,198.3L379.9,197.1L378.2,196.1L378.2,194.0M374.5,193.4L374.5,194.6L374.4,196.6L373.0,199.1M385.1,192.7L384.7,192.0L382.8,191.2L382.2,191.1M386.1,184.5L384.2,186.7L382.3,187.3L381.6,188.2M345.5,210.9L346.2,209.7L348.2,209.0L349.2,208.6M353.9,214.1L353.3,213.3L353.4,211.7L353.6,209.7M353.6,209.7L351.5,209.4L351.4,209.6L349.2,208.6M344.9,202.6L346.5,203.2L346.9,203.8L348.6,204.6M349.2,208.6L348.5,207.0L348.2,205.5L348.6,204.6M349.6,197.1L349.6,197.1L349.6,197.1L349.7,197.1M349.7,197.1L350.8,199.7L350.7,199.8L351.2,202.2M348.6,204.6L349.4,203.9L350.3,203.1L351.2,202.2M349.7,197.1L350.7,196.6L352.6,197.5L354.1,196.7M349.0,190.7L350.6,190.1L353.6,191.5L355.2,190.6M355.2,190.6L355.4,191.0L355.8,192.1L356.2,193.0M356.2,193.0L354.8,194.2L354.9,194.9L354.1,196.7M356.8,175.0L356.0,175.4L353.7,174.8L352.6,174.4M356.8,175.0L357.0,175.5L357.0,175.8L357.2,175.9M357.2,175.9L356.3,179.4L355.5,181.2L354.3,183.2M352.6,174.4L352.3,175.6L351.2,175.9L350.5,176.5M350.5,176.5L349.6,178.4L350.5,180.3L351.0,182.3M354.3,183.2L353.6,183.5L352.1,183.0L351.5,182.9M351.0,182.3L351.1,182.4L351.2,182.7L351.5,182.9M359.6,170.9L359.3,171.5L357.4,173.8L356.8,175.0M350.9,170.5L351.6,171.8L352.5,173.3L352.6,174.4M362.7,179.9L359.9,178.6L359.7,176.5L357.2,175.9M357.0,185.3L356.7,185.0L355.5,183.3L354.3,183.2M343.1,175.4L345.3,174.7L348.7,175.7L350.5,176.5M341.0,180.4L344.9,182.2L346.6,180.4L351.0,182.3M347.6,189.4L350.1,185.9L350.8,185.3L351.5,182.9M355.2,190.6L355.8,189.5L356.8,186.7L357.3,186.1M338.3,150.5L338.9,150.1L339.8,150.1L340.6,149.7M338.4,135.5L340.8,137.1L342.8,142.9L344.3,144.4M344.3,144.4L342.1,145.1L342.8,147.8L340.6,149.7M347.3,154.1L347.2,153.2L346.9,152.4L346.5,152.0M340.6,149.7L343.6,150.8L345.4,151.3L346.5,152.0M358.7,157.0L357.5,155.6L355.1,153.5L354.6,152.2M351.2,155.3L352.0,154.8L352.9,153.0L353.9,152.3M354.6,152.2L354.3,152.2L354.2,152.2L353.9,152.3M363.2,153.0L362.7,152.1L359.9,148.6L358.4,148.1M354.6,152.2L355.9,151.0L357.8,149.3L358.4,148.1M346.5,152.0L347.0,151.4L349.1,149.0L350.2,148.4M353.9,152.3L353.3,151.6L351.3,150.2L350.2,148.4M358.7,145.6L358.5,145.8L358.5,146.0L358.3,146.3M358.4,148.1L358.4,147.6L358.1,146.7L358.3,146.3M373.4,158.2L373.9,158.4L375.5,158.9L376.4,159.2M376.2,165.6L376.9,165.5L377.0,164.8L377.5,164.3M376.4,159.2L376.0,160.6L377.3,162.2L377.5,164.3M378.0,153.0L379.2,154.1L379.3,155.0L380.4,155.8M376.4,159.2L378.4,157.7L379.0,156.9L380.4,155.8M385.6,150.0L383.2,152.9L384.2,154.7L381.7,156.1M381.7,156.1L381.3,155.9L380.6,156.0L380.4,155.8M399.5,166.1L399.5,167.7L400.4,168.3L400.4,169.3M407.5,168.2L406.0,169.0L405.9,169.1L404.5,170.0M400.4,169.3L401.7,168.8L402.5,169.7L404.5,170.0M408.0,176.2L406.9,176.0L406.2,176.0L405.2,175.3M404.5,170.0L404.3,172.6L405.1,174.0L405.2,175.3M402.3,181.2L402.9,179.7L402.5,178.6L402.2,177.3M405.2,175.3L403.8,176.4L403.8,176.4L402.2,177.3M392.8,171.0L395.0,172.0L395.2,171.9L397.6,172.4M392.8,171.0L391.7,173.3L389.3,175.0L389.2,177.6M389.2,177.6L392.0,178.6L393.8,177.7L394.8,179.0M394.8,179.0L395.3,178.3L397.3,176.9L398.1,174.7M397.6,172.4L397.8,172.8L398.3,173.6L398.1,174.7M391.2,168.5L391.3,167.9L391.4,167.3L391.4,166.9M391.2,168.5L391.5,169.6L391.8,169.8L392.8,171.0M396.1,164.0L394.3,165.4L392.9,165.8L391.4,166.9M400.4,169.3L399.1,170.3L398.2,171.5L397.6,172.4M388.8,177.7L388.9,177.7L389.1,177.7L389.2,177.6M384.2,170.9L387.2,170.0L388.5,170.0L391.2,168.5M396.5,182.8L396.3,182.2L395.4,180.5L394.8,179.0M402.2,177.3L401.0,177.1L399.5,175.6L398.1,174.7M395.9,160.7L394.9,159.5L392.8,160.1L391.6,159.2M391.4,166.9L390.8,166.0L390.0,164.2L388.5,163.4M388.5,163.4L389.3,162.3L391.3,159.7L391.6,159.2M390.6,154.7L390.6,155.2L390.5,155.2L390.3,155.7M390.3,155.7L390.2,156.6L390.8,157.7L391.6,159.2M393.2,221.1L393.0,221.7L392.9,222.2L392.6,222.7M393.2,221.1L393.4,219.5L391.0,217.3L391.0,216.4M392.6,222.7L389.6,223.6L387.8,222.6L384.9,223.7M391.0,216.4L390.9,216.3L390.8,216.3L390.6,216.1M390.6,216.1L389.6,217.0L385.9,218.5L384.9,219.5M384.9,219.5L384.9,221.2L384.3,222.3L384.9,223.7M400.8,219.7L398.9,219.2L396.7,219.4L393.2,221.1M393.8,227.7L393.8,225.4L392.9,223.4L392.6,222.7M396.9,214.0L395.9,214.7L393.5,215.9L391.0,216.4M383.8,225.3L383.9,225.1L384.5,224.4L384.9,223.7M389.7,213.7L390.0,214.7L390.3,215.4L390.6,216.1M381.3,216.2L382.5,216.6L384.5,219.3L384.9,219.5M368.1,208.2L366.8,206.9L364.4,204.5L363.7,204.1M361.9,212.3L361.2,211.6L360.3,209.4L359.3,208.7M359.3,208.7L361.8,207.3L362.7,205.1L363.7,204.1M353.6,209.7L353.9,209.2L354.7,208.3L355.7,207.9M359.3,208.7L357.7,209.1L357.4,208.7L355.7,207.9M351.2,202.2L352.7,202.9L354.6,203.2L355.5,203.4M355.7,207.9L356.0,206.7L355.7,205.2L355.5,203.4M354.1,196.7L355.6,198.3L356.7,200.2L357.5,200.8M355.5,203.4L356.0,202.4L356.3,202.1L357.5,200.8M352.5,145.5L351.6,145.8L350.6,147.2L350.2,147.7M352.5,145.5L352.9,144.5L351.5,141.7L351.6,140.0M350.2,147.7L347.7,145.6L347.2,145.0L345.5,144.3M345.5,144.3L346.4,143.1L349.6,139.8L350.2,138.8M350.2,138.8L350.9,139.1L351.4,139.4L351.6,140.0M358.3,146.3L355.8,145.2L355.3,146.1L352.5,145.5M350.2,148.4L350.1,148.0L350.3,147.8L350.2,147.7M356.4,140.1L354.6,140.7L353.3,139.2L351.6,140.0M344.3,144.4L344.9,144.5L345.3,144.3L345.5,144.3M349.3,136.2L349.9,136.6L349.8,138.1L350.2,138.8M383.6,166.0L382.7,165.3L381.4,163.9L380.5,163.8M383.6,166.0L384.8,164.4L387.2,163.4L387.8,163.3M380.5,163.8L380.6,161.2L383.5,160.2L383.4,158.1M387.8,163.3L386.2,161.1L385.2,160.1L384.1,158.3M383.4,158.1L383.7,158.1L383.8,158.2L384.1,158.3M384.0,170.6L383.2,168.9L384.4,167.2L383.6,166.0M377.5,164.3L378.6,164.5L379.5,164.5L380.5,163.8M388.5,163.4L388.3,163.2L388.2,163.3L387.8,163.3M381.7,156.1L381.9,156.7L383.2,157.8L383.4,158.1M390.3,155.7L388.6,157.3L385.7,157.7L384.1,158.3M363.5,203.3L361.1,203.3L360.4,202.1L358.8,200.5M363.5,203.3L365.6,202.7L365.8,200.8L367.4,198.7M358.8,200.5L359.5,198.5L360.6,195.9L361.7,194.6M367.4,198.7L367.4,198.1L367.1,197.8L366.9,197.5M366.9,197.5L365.0,196.4L363.7,196.4L362.2,194.4M362.2,194.4L362.0,194.4L361.9,194.5L361.7,194.6M357.5,200.8L357.9,200.9L358.5,200.8L358.8,200.5M363.7,204.1L363.6,203.7L363.5,203.4L363.5,203.3M370.5,200.0L369.8,199.1L367.9,198.9L367.4,198.7M356.2,193.0L357.4,193.3L359.9,194.4L361.7,194.6M370.2,192.4L369.9,193.0L368.3,195.1L366.9,197.5M363.5,189.9L363.2,190.9L362.9,192.3L362.2,194.4" fill="none" stroke="#857070" stroke-width="0.6" opacity="0.62"/></g>
<path d="M190.9,107.2 L194.0,104.6 L200.5,103.7 L205.5,106.0 L210.0,103.4 L217.0,102.0 L223.4,102.7 L228.5,100.8 L231.0,97.0 L233.5,93.2 L232.5,88.0 L233.0,84.4 L238.0,83.0 L245.0,84.0 L250.0,75.0 L256.0,78.0 L261.6,80.0 L263.0,72.0 L268.0,69.6 L272.4,66.0 L274.4,71.0 L280.0,75.0 L284.0,82.0 L283.6,88.0 L281.0,93.0 L286.0,97.0 L294.0,99.0 L300.0,104.0 L304.0,112.0 L307.0,115.6 L316.0,116.4 L326.0,117.0 L334.0,120.0 L342.0,122.0 L347.0,124.0 L352.0,121.0 L360.0,120.0 L368.0,119.0 L372.0,115.0 L378.0,111.0 L381.0,107.0 L378.0,103.0 L382.0,100.0 L390.0,100.0 L396.0,96.0 L402.0,89.0 L409.0,85.0 L413.0,81.0 L408.0,79.0 L397.0,80.0 L395.0,75.0 L398.0,67.0 L405.0,65.0 L409.0,60.0 L410.0,51.0 L408.0,44.0 L413.0,40.0 L419.0,37.0 L426.0,39.0 L432.0,42.0 L438.0,49.0 L443.0,54.0 L449.0,58.0 L458.0,62.0 L467.0,63.0 L472.0,59.0 L476.0,55.0 L477.0,60.0 L475.0,67.0 L476.0,74.0 L472.0,81.0 L471.0,88.0 L472.0,90.0 L471.0,97.0 L466.2,100.0 L467.5,103.5 L462.4,105.7 L456.0,109.5 L452.2,114.0 L448.4,119.0 L444.5,124.2 L439.5,128.6 L434.4,132.5 L431.8,134.4 L431.2,130.0 L433.7,124.8 L435.0,121.0 L431.8,119.7 L428.6,120.4 L426.0,124.8 L423.0,128.6 L419.0,131.8 L414.0,136.3 L413.6,139.5 L419.0,142.0 L422.3,146.0 L425.5,146.5 L428.6,142.7 L431.8,141.5 L436.3,141.5 L440.0,142.0 L440.7,145.3 L437.0,147.2 L433.0,150.4 L430.0,154.8 L427.4,159.3 L428.6,163.0 L432.0,166.0 L437.0,172.0 L442.0,177.0 L445.0,182.0 L448.0,186.0 L449.0,190.0 L445.0,191.0 L449.0,195.0 L448.0,201.0 L445.0,207.0 L442.0,212.0 L441.0,219.0 L438.0,226.0 L434.0,232.0 L430.0,237.0 L425.0,242.0 L419.0,246.0 L412.0,249.0 L406.0,252.0 L401.0,253.0 L396.0,255.0 L391.9,258.8 L386.2,260.7 L384.9,263.9 L385.5,267.7 L383.6,269.6 L381.0,268.4 L379.8,264.5 L379.2,261.4 L371.5,260.7 L365.2,259.5 L358.8,257.0 L355.0,253.5 L350.0,252.0 L344.0,253.0 L338.0,254.0 L332.0,255.0 L327.0,257.0 L326.0,263.0 L322.0,261.0 L318.0,260.0 L314.0,257.0 L310.0,254.0 L308.0,249.0 L304.0,245.0 L301.0,241.0 L302.0,237.0 L305.0,232.0 L308.0,227.0 L309.0,220.0 L307.0,214.0 L302.0,215.0 L296.0,212.0 L290.0,210.0 L284.0,213.0 L278.0,218.0 L269.0,217.0 L267.0,211.0 L262.0,208.0 L255.0,207.0 L250.0,208.0 L248.0,204.0 L240.0,203.0 L232.0,200.0 L226.0,195.0 L220.0,189.0 L211.0,180.0 L207.0,176.0 L202.0,171.0 L198.0,166.0 L199.0,160.0 L203.0,157.0 L203.0,150.0 L205.0,145.0 L201.0,140.0 L195.0,133.0 L194.0,129.5 L192.8,125.0 L189.0,123.3 L192.2,121.2 L193.5,116.7 L191.5,113.5 L189.6,110.4Z" fill="none" stroke="#c0655c" stroke-width="0.4" opacity="0.6"/>
<path d="M382.4,270.9 L387.5,270.9 L389.6,272.2 L388.3,276.0 L384.9,280.5 L380.5,283.6 L376.0,284.3 L373.8,281.7 L373.5,277.9 L376.0,274.1 L379.2,271.9Z" fill="#ea5a4b"/><path d="M453.9,223.1 L456.0,225.2 L456.4,230.0 L456.0,234.2 L454.6,241.8 L452.5,248.2 L449.4,244.2 L445.5,237.3 L446.9,231.2 L450.0,225.2 L451.7,223.4Z" fill="#e2827b" stroke="#b08a88" stroke-width="0.4"/><path d="M447,232l4,1.5l5,-1 M451,233.5l-1,5l-3,1 M450,238.5l5,1 M452,226v7 M451,239l1.5,5" fill="none" stroke="#9a8a8a" stroke-width="0.4" opacity="0.7"/>
<g fill="#c9c6f2"><circle cx="372.4" cy="130.0" r="1.3"/><circle cx="382.5" cy="153.8" r="1.3"/><circle cx="392.7" cy="162.5" r="1.3"/><circle cx="402.3" cy="161.1" r="1.3"/><circle cx="396.2" cy="167.5" r="1.3"/><circle cx="410.2" cy="155.3" r="1.3"/><circle cx="413.1" cy="152.4" r="1.3"/><circle cx="418.9" cy="150.9" r="1.3"/><circle cx="411.1" cy="136.9" r="1.3"/><circle cx="397.1" cy="125.3" r="1.3"/><circle cx="402.0" cy="127.6" r="1.3"/><circle cx="414.5" cy="123.3" r="1.3"/><circle cx="427.6" cy="121.8" r="1.3"/><circle cx="336.6" cy="160.2" r="1.3"/><circle cx="342.7" cy="162.0" r="1.3"/><circle cx="352.9" cy="161.1" r="1.3"/><circle cx="357.8" cy="162.5" r="1.3"/><circle cx="362.2" cy="164.0" r="1.3"/><circle cx="368.0" cy="168.4" r="1.3"/><circle cx="380.5" cy="167.5" r="1.3"/><circle cx="382.5" cy="171.3" r="1.3"/><circle cx="385.5" cy="174.2" r="1.3"/><circle cx="388.9" cy="175.6" r="1.3"/><circle cx="398.5" cy="177.1" r="1.3"/><circle cx="407.3" cy="171.3" r="1.3"/><circle cx="410.2" cy="177.1" r="1.3"/><circle cx="417.5" cy="174.2" r="1.3"/><circle cx="421.8" cy="168.4" r="1.3"/><circle cx="426.2" cy="171.3" r="1.3"/><circle cx="429.1" cy="165.5" r="1.3"/><circle cx="432.0" cy="181.5" r="1.3"/><circle cx="437.8" cy="178.5" r="1.3"/><circle cx="439.3" cy="184.4" r="1.3"/><circle cx="423.3" cy="184.4" r="1.3"/><circle cx="416.0" cy="185.8" r="1.3"/><circle cx="407.3" cy="184.4" r="1.3"/><circle cx="398.5" cy="187.3" r="1.3"/><circle cx="388.4" cy="185.8" r="1.3"/><circle cx="378.2" cy="184.4" r="1.3"/><circle cx="370.9" cy="180.0" r="1.3"/><circle cx="363.6" cy="185.8" r="1.3"/><circle cx="354.9" cy="187.3" r="1.3"/><circle cx="349.1" cy="182.9" r="1.3"/><circle cx="357.8" cy="181.5" r="1.3"/><circle cx="382.5" cy="191.6" r="1.3"/><circle cx="391.3" cy="193.1" r="1.3"/><circle cx="401.5" cy="194.5" r="1.3"/><circle cx="413.1" cy="193.1" r="1.3"/><circle cx="424.7" cy="191.6" r="1.3"/><circle cx="436.4" cy="190.2" r="1.3"/><circle cx="445.1" cy="187.3" r="1.3"/><circle cx="345.1" cy="192.2" r="1.3"/><circle cx="353.8" cy="191.6" r="1.3"/><circle cx="358.2" cy="189.3" r="1.3"/><circle cx="340.7" cy="200.9" r="1.3"/><circle cx="343.6" cy="200.9" r="1.3"/><circle cx="346.5" cy="198.9" r="1.3"/><circle cx="337.8" cy="204.7" r="1.3"/><circle cx="345.1" cy="210.5" r="1.3"/><circle cx="355.3" cy="198.0" r="1.3"/><circle cx="327.6" cy="225.1" r="1.3"/><circle cx="317.5" cy="222.2" r="1.3"/><circle cx="310.2" cy="233.8" r="1.3"/><circle cx="326.2" cy="233.8" r="1.3"/><circle cx="334.9" cy="232.4" r="1.3"/><circle cx="339.3" cy="220.7" r="1.3"/><circle cx="333.5" cy="237.6" r="1.3"/><circle cx="314.5" cy="243.4" r="1.3"/><circle cx="321.8" cy="248.4" r="1.3"/><circle cx="361.1" cy="229.5" r="1.3"/><circle cx="368.4" cy="238.2" r="1.3"/><circle cx="358.2" cy="242.5" r="1.3"/><circle cx="369.8" cy="248.4" r="1.3"/><circle cx="393.1" cy="191.6" r="1.3"/><circle cx="397.5" cy="194.5" r="1.3"/><circle cx="404.7" cy="197.5" r="1.3"/><circle cx="410.5" cy="200.4" r="1.3"/><circle cx="414.9" cy="197.5" r="1.3"/><circle cx="387.3" cy="212.0" r="1.3"/><circle cx="393.1" cy="217.8" r="1.3"/><circle cx="380.0" cy="216.4" r="1.3"/><circle cx="385.8" cy="225.1" r="1.3"/><circle cx="396.0" cy="222.2" r="1.3"/><circle cx="410.5" cy="226.5" r="1.3"/><circle cx="417.8" cy="229.5" r="1.3"/><circle cx="423.6" cy="230.9" r="1.3"/><circle cx="432.4" cy="233.8" r="1.3"/><circle cx="416.4" cy="239.6" r="1.3"/><circle cx="420.7" cy="241.1" r="1.3"/><circle cx="409.1" cy="248.4" r="1.3"/><circle cx="400.4" cy="249.8" r="1.3"/><circle cx="396.0" cy="246.9" r="1.3"/><circle cx="387.3" cy="244.6" r="1.3"/><circle cx="381.5" cy="246.9" r="1.3"/><circle cx="404.7" cy="251.3" r="1.3"/><circle cx="416.4" cy="233.8" r="1.3"/><circle cx="436.7" cy="209.1" r="1.3"/><circle cx="438.2" cy="197.5" r="1.3"/><circle cx="429.5" cy="206.2" r="1.3"/><circle cx="420.7" cy="220.7" r="1.3"/><circle cx="401.8" cy="235.3" r="1.3"/><circle cx="390.2" cy="233.8" r="1.3"/><circle cx="374.2" cy="226.5" r="1.3"/><circle cx="369.8" cy="212.0" r="1.3"/><circle cx="375.6" cy="206.2" r="1.3"/><circle cx="365.5" cy="194.5" r="1.3"/><circle cx="442.0" cy="53.6" r="1.3"/><circle cx="452.0" cy="67.6" r="1.3"/><circle cx="459.0" cy="68.0" r="1.3"/><circle cx="464.6" cy="71.6" r="1.3"/><circle cx="466.0" cy="77.0" r="1.3"/><circle cx="466.6" cy="80.0" r="1.3"/><circle cx="446.6" cy="77.0" r="1.3"/><circle cx="438.0" cy="79.6" r="1.3"/><circle cx="445.6" cy="83.0" r="1.3"/><circle cx="429.6" cy="88.0" r="1.3"/><circle cx="439.0" cy="89.0" r="1.3"/><circle cx="439.0" cy="90.0" r="1.3"/><circle cx="444.0" cy="97.0" r="1.3"/><circle cx="449.6" cy="95.6" r="1.3"/><circle cx="430.0" cy="102.0" r="1.3"/><circle cx="439.4" cy="109.0" r="1.3"/><circle cx="439.0" cy="111.6" r="1.3"/><circle cx="438.0" cy="115.6" r="1.3"/><circle cx="437.0" cy="117.0" r="1.3"/><circle cx="429.0" cy="113.0" r="1.3"/><circle cx="416.0" cy="114.0" r="1.3"/><circle cx="423.0" cy="117.0" r="1.3"/><circle cx="428.0" cy="120.0" r="1.3"/><circle cx="413.0" cy="123.0" r="1.3"/><circle cx="445.0" cy="123.0" r="1.3"/><circle cx="322.0" cy="134.5" r="1.3"/><circle cx="329.0" cy="135.5" r="1.3"/><circle cx="417.1" cy="164.6" r="1.3"/><circle cx="394.6" cy="141.7" r="1.3"/><circle cx="379.4" cy="164.3" r="1.3"/><circle cx="422.3" cy="124.3" r="1.3"/><circle cx="421.9" cy="153.6" r="1.3"/><circle cx="403.5" cy="142.5" r="1.3"/><circle cx="399.0" cy="147.2" r="1.3"/><circle cx="399.7" cy="136.0" r="1.3"/><circle cx="400.5" cy="144.0" r="1.3"/><circle cx="393.8" cy="128.7" r="1.3"/><circle cx="390.9" cy="140.1" r="1.3"/><circle cx="434.4" cy="144.9" r="1.3"/><circle cx="402.2" cy="150.0" r="1.3"/><circle cx="378.3" cy="187.9" r="1.3"/><circle cx="439.6" cy="191.1" r="1.3"/><circle cx="424.4" cy="157.4" r="1.3"/><circle cx="378.9" cy="173.7" r="1.3"/><circle cx="407.0" cy="187.6" r="1.3"/><circle cx="395.7" cy="182.0" r="1.3"/><circle cx="402.6" cy="134.2" r="1.3"/><circle cx="415.4" cy="178.8" r="1.3"/><circle cx="381.5" cy="139.5" r="1.3"/><circle cx="386.7" cy="124.9" r="1.3"/><circle cx="391.4" cy="143.7" r="1.3"/><circle cx="386.7" cy="160.0" r="1.3"/><circle cx="383.6" cy="132.9" r="1.3"/><circle cx="383.0" cy="150.6" r="1.3"/><circle cx="378.3" cy="130.3" r="1.3"/><circle cx="425.1" cy="180.2" r="1.3"/><circle cx="430.4" cy="187.3" r="1.3"/><circle cx="398.3" cy="240.0" r="1.3"/><circle cx="405.2" cy="244.7" r="1.3"/><circle cx="389.6" cy="247.0" r="1.3"/><circle cx="390.3" cy="252.5" r="1.3"/><circle cx="395.2" cy="241.9" r="1.3"/><circle cx="402.3" cy="241.1" r="1.3"/><circle cx="397.0" cy="236.5" r="1.3"/><circle cx="411.4" cy="244.4" r="1.3"/><circle cx="410.7" cy="241.1" r="1.3"/><circle cx="338.0" cy="168.4" r="1.3"/><circle cx="337.9" cy="217.5" r="1.3"/><circle cx="343.2" cy="186.6" r="1.3"/><circle cx="360.6" cy="149.5" r="1.3"/><circle cx="342.3" cy="179.2" r="1.3"/><circle cx="354.4" cy="214.3" r="1.3"/></g>
<g fill="#f6ea4c"><circle cx="324.4" cy="141.6" r="1.3"/><circle cx="333.1" cy="144.2" r="1.3"/><circle cx="334.5" cy="149.5" r="1.3"/><circle cx="341.8" cy="159.1" r="1.3"/><circle cx="354.9" cy="142.2" r="1.3"/><circle cx="354.3" cy="146.0" r="1.3"/><circle cx="354.0" cy="148.3" r="1.3"/><circle cx="356.9" cy="137.2" r="1.3"/><circle cx="372.9" cy="137.2" r="1.3"/><circle cx="381.1" cy="127.1" r="1.3"/><circle cx="390.4" cy="131.1" r="1.3"/><circle cx="372.4" cy="155.9" r="1.3"/><circle cx="387.5" cy="143.6" r="1.3"/><circle cx="388.9" cy="147.4" r="1.3"/><circle cx="379.6" cy="150.0" r="1.3"/><circle cx="391.3" cy="158.2" r="1.3"/><circle cx="399.4" cy="153.8" r="1.3"/><circle cx="398.5" cy="157.6" r="1.3"/><circle cx="397.1" cy="144.5" r="1.3"/><circle cx="407.3" cy="133.5" r="1.3"/><circle cx="415.4" cy="131.1" r="1.3"/><circle cx="407.9" cy="147.4" r="1.3"/><circle cx="416.0" cy="146.0" r="1.3"/><circle cx="420.4" cy="159.6" r="1.3"/><circle cx="407.3" cy="161.1" r="1.3"/><circle cx="400.0" cy="165.5" r="1.3"/><circle cx="394.2" cy="168.4" r="1.3"/><circle cx="397.1" cy="172.7" r="1.3"/><circle cx="414.5" cy="169.8" r="1.3"/><circle cx="413.1" cy="171.9" r="1.3"/><circle cx="404.4" cy="176.2" r="1.3"/><circle cx="418.9" cy="177.1" r="1.3"/><circle cx="389.8" cy="180.0" r="1.3"/><circle cx="372.9" cy="169.8" r="1.3"/><circle cx="369.5" cy="170.7" r="1.3"/><circle cx="350.5" cy="170.7" r="1.3"/><circle cx="360.7" cy="171.3" r="1.3"/><circle cx="359.3" cy="180.0" r="1.3"/><circle cx="324.4" cy="177.1" r="1.3"/><circle cx="344.7" cy="191.6" r="1.3"/><circle cx="420.4" cy="185.8" r="1.3"/><circle cx="430.5" cy="178.0" r="1.3"/><circle cx="434.9" cy="182.9" r="1.3"/><circle cx="433.5" cy="185.8" r="1.3"/><circle cx="443.6" cy="185.8" r="1.3"/><circle cx="336.4" cy="200.9" r="1.3"/><circle cx="346.5" cy="204.7" r="1.3"/><circle cx="350.0" cy="198.9" r="1.3"/><circle cx="358.2" cy="198.0" r="1.3"/><circle cx="340.7" cy="205.6" r="1.3"/><circle cx="350.9" cy="209.1" r="1.3"/><circle cx="359.6" cy="217.8" r="1.3"/><circle cx="356.7" cy="225.1" r="1.3"/><circle cx="346.5" cy="225.1" r="1.3"/><circle cx="339.3" cy="233.8" r="1.3"/><circle cx="332.0" cy="240.5" r="1.3"/><circle cx="384.4" cy="195.1" r="1.3"/><circle cx="390.8" cy="197.5" r="1.3"/><circle cx="401.8" cy="195.1" r="1.3"/><circle cx="403.3" cy="199.8" r="1.3"/><circle cx="387.3" cy="206.8" r="1.3"/><circle cx="409.1" cy="213.5" r="1.3"/><circle cx="404.7" cy="214.9" r="1.3"/><circle cx="401.8" cy="215.5" r="1.3"/><circle cx="410.5" cy="217.8" r="1.3"/><circle cx="419.9" cy="209.1" r="1.3"/><circle cx="425.7" cy="197.5" r="1.3"/><circle cx="428.0" cy="213.5" r="1.3"/><circle cx="434.4" cy="201.8" r="1.3"/><circle cx="431.5" cy="191.6" r="1.3"/><circle cx="422.2" cy="190.2" r="1.3"/><circle cx="444.6" cy="206.2" r="1.3"/><circle cx="436.1" cy="225.1" r="1.3"/><circle cx="434.4" cy="230.0" r="1.3"/><circle cx="428.0" cy="232.4" r="1.3"/><circle cx="426.5" cy="236.7" r="1.3"/><circle cx="380.0" cy="234.4" r="1.3"/><circle cx="375.6" cy="240.2" r="1.3"/><circle cx="369.8" cy="251.3" r="1.3"/><circle cx="378.5" cy="248.9" r="1.3"/><circle cx="382.0" cy="251.9" r="1.3"/><circle cx="372.7" cy="258.0" r="1.3"/><circle cx="411.4" cy="68.0" r="1.3"/><circle cx="432.0" cy="76.0" r="1.3"/><circle cx="460.6" cy="71.6" r="1.3"/><circle cx="462.0" cy="86.6" r="1.3"/><circle cx="440.4" cy="102.4" r="1.3"/><circle cx="444.6" cy="103.4" r="1.3"/><circle cx="450.4" cy="110.0" r="1.3"/><circle cx="255.6" cy="86.0" r="1.3"/><circle cx="265.4" cy="100.4" r="1.3"/><circle cx="396.2" cy="161.7" r="1.3"/><circle cx="405.2" cy="165.4" r="1.3"/><circle cx="380.9" cy="179.9" r="1.3"/><circle cx="428.9" cy="182.5" r="1.3"/><circle cx="410.2" cy="186.0" r="1.3"/><circle cx="426.4" cy="185.6" r="1.3"/><circle cx="438.5" cy="187.8" r="1.3"/><circle cx="399.4" cy="131.9" r="1.3"/><circle cx="386.0" cy="177.6" r="1.3"/><circle cx="428.9" cy="148.5" r="1.3"/><circle cx="414.4" cy="189.9" r="1.3"/><circle cx="393.4" cy="153.3" r="1.3"/><circle cx="411.3" cy="160.2" r="1.3"/><circle cx="423.8" cy="164.9" r="1.3"/></g>

<!-- nine-dash segments in main map -->
<g stroke="#666" stroke-width="0.55" fill="none" opacity="0.9">
<path d="M464.4,215.5l0.4,2.5 M462,226.7l-0.3,7.5 M460,248.6l-3.8,6.1 M451.8,270.5l-1.4,4.5 M448.2,293.5l-0.4,4"/>
</g>

<!-- scale bar -->
<g font-size="4.6" style="fill:#222">
<text x="189" y="229" text-anchor="middle">0</text>
<text x="204.6" y="229" text-anchor="middle">250</text>
<text x="220.2" y="229" text-anchor="middle">500</text>
<text x="255.6" y="229" text-anchor="middle">1,000 km</text>
</g>
<path d="M189,235.7H251.2 M189.00,233.0V235.7 M196.78,233.4V235.7 M204.55,233.4V235.7 M212.32,233.4V235.7 M220.10,233.0V235.7 M227.88,233.4V235.7 M235.65,233.4V235.7 M243.43,233.4V235.7 M251.20,233.0V235.7" fill="none" stroke="#333" stroke-width="0.55"/>

<!-- legend -->
<text x="188" y="246.6" font-size="4.9" textLength="45.5" lengthAdjust="spacingAndGlyphs" style="fill:#222">Energy consumption</text>
<rect x="188" y="252" width="11.2" height="30.8" fill="url(#leg)"/>
<g class="ser" font-size="4.6" text-anchor="end" style="fill:#333">
<text class="ser" x="206.4" y="254.2">3</text>
<text class="ser" x="206.4" y="260.2">2</text>
<text class="ser" x="206.4" y="266.2">1</text>
<text class="ser" x="206.4" y="272.2">0</text>
<text class="ser" x="206.4" y="278.2">-1</text>
<text class="ser" x="206.4" y="284.2">-2</text>
</g>

<!-- north arrow -->
<text x="527.1" y="37.6" font-size="9" text-anchor="middle" stroke="#111" stroke-width="0.3">N</text>
<path d="M527.2,40.5 L520.5,62 L527.2,55Z" fill="#000" stroke="#000" stroke-width="0.8" stroke-linejoin="miter"/>
<path d="M527.2,40.5 L533.5,62 L527.2,55Z" fill="#fff" stroke="#000" stroke-width="0.9"/>

<!-- inset -->
<rect x="470.7" y="210.2" width="63.5" height="78.8" fill="#fff" stroke="#333" stroke-width="0.8"/>
<g>
<path d="M471.2,210.7 H502 L497,213 L493,215.5 L488.5,217 L487.8,221 L485.3,221 L485,217.8 L480,217.6 L476,216.2 L473,214.3 L471.2,213.5Z" fill="#ea5b4c"/>
<path d="M489,211 H502 L497,213 L493,215.5 L489.5,216.7 L487.5,214.5Z" fill="#bcd0f5"/>
<circle cx="480.5" cy="213" r="1.9" fill="#f6ea4c"/><circle cx="484.6" cy="212.4" r="1.7" fill="#f6ea4c"/><circle cx="486.4" cy="214.4" r="1.5" fill="#f6ea4c"/><circle cx="482.5" cy="214.8" r="1.3" fill="#f6ea4c"/>
<circle cx="476.6" cy="214.4" r="1.3" fill="#c9c6f2"/><circle cx="479" cy="216" r="1.1" fill="#c9c6f2"/><circle cx="474" cy="212.2" r="0.9" fill="#c9c6f2"/>
<path d="M482.2,224 L484,222.3 L487,221.8 L490.5,222.6 L490.2,225 L488.5,227.3 L485.5,228.8 L483,228.6 L481.8,226.5Z" fill="#ea5b4c"/>
<circle cx="485.6" cy="229.2" r="1" fill="#c9c6f2"/>
</g>
<g stroke="#3a3a3a" stroke-width="0.6" fill="none" opacity="0.9">
<path d="M523.5,211l-1,3 M520.6,221l-1,4.5 M519.3,233l-0.5,4 M522,248l-0.6,3.5 M513,257l-3,3 M500.5,281.5l-3,1.2 M499,275v1.5 M481.5,270l1.2,3 M489,249.5l0.8,3.5 M485,236.5l1.6,3 M497.5,216.8l1.5,0.6"/>
<ellipse cx="503.3" cy="235" rx="1.6" ry="0.8" transform="rotate(-25 503.3 235)"/>
<path d="M493.5,233.5l1,-1l0.5,1.5 M496.5,232.2l0.6,1.6 M494,236l1,0.6"/>
<path d="M503,253l1,1 M505,255.5l1.5,-0.5 M507,252l0.5,1.5 M509,256l1.2,0.4 M510.5,253l1,-1 M512.5,255.5l0.8,1 M514,251.5l1,0.6 M515.5,254l-0.6,1.2 M506,259l1,0.8 M508.5,261l1.2,-0.4 M503.5,262.5l1.2,0.6 M500.5,264.5l1,-0.5 M497.5,266l1.2,0.5 M494.5,267.5l1,-0.6 M491,268.5l1.2,0.4 M488.5,266.5l0.8,0.8 M511,259.5l1,0.8 M505,266l0.8,0.8 M501,268.5l1,0.4 M513,263l0.8,-0.8 M516.5,258.5l0.6,1"/>
</g>
</svg>
</body></html>
